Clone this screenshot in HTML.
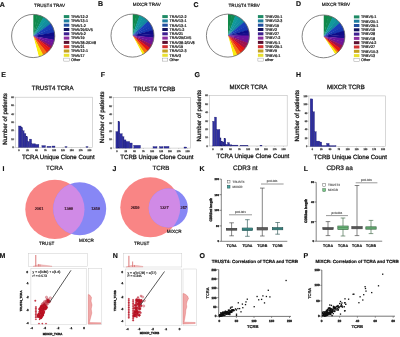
<!DOCTYPE html>
<html><head><meta charset="utf-8"><style>
html,body{margin:0;padding:0;background:#fff;width:400px;height:337px;overflow:hidden}
svg{display:block;filter:blur(0.3px);font-family:'Liberation Sans',sans-serif}
text{text-rendering:geometricPrecision}
</style></head><body>
<svg width="400" height="337" viewBox="0 0 400 337" style="font-family:'Liberation Sans',sans-serif">
<rect width="400" height="337" fill="#fff"/>
<g>
<text x="49.6" y="6.6" font-size="4.6" text-anchor="middle" font-weight="normal" fill="#1a1a1a" stroke="#1a1a1a" stroke-width="0.2">TRUST4 TRAV</text>
<path d="M33.2,36.0 L33.20,14.40 A21.6,21.6 0 0 1 37.26,14.78 Z" fill="#108848"/>
<path d="M33.2,36.0 L36.70,14.69 A21.6,21.6 0 0 1 40.65,15.72 Z" fill="#108a50"/>
<path d="M33.2,36.0 L40.11,15.54 A21.6,21.6 0 0 1 43.84,17.20 Z" fill="#108c58"/>
<path d="M33.2,36.0 L43.34,16.93 A21.6,21.6 0 0 1 46.65,19.10 Z" fill="#109a9a"/>
<path d="M33.2,36.0 L46.20,18.75 A21.6,21.6 0 0 1 49.13,21.41 Z" fill="#11919d"/>
<path d="M33.2,36.0 L48.74,21.00 A21.6,21.6 0 0 1 51.21,24.08 Z" fill="#1288a0"/>
<path d="M33.2,36.0 L50.89,23.61 A21.6,21.6 0 0 1 53.37,28.26 Z" fill="#1840b8"/>
<path d="M33.2,36.0 L53.16,27.73 A21.6,21.6 0 0 1 54.56,32.81 Z" fill="#1638b1"/>
<path d="M33.2,36.0 L54.47,32.25 A21.6,21.6 0 0 1 54.79,36.57 Z" fill="#0c0c88"/>
<path d="M33.2,36.0 L54.80,36.00 A21.6,21.6 0 0 1 54.37,40.31 Z" fill="#1a0d8c"/>
<path d="M33.2,36.0 L54.47,39.75 A21.6,21.6 0 0 1 53.43,43.56 Z" fill="#6a14a0"/>
<path d="M33.2,36.0 L53.62,43.03 A21.6,21.6 0 0 1 52.00,46.64 Z" fill="#711394"/>
<path d="M33.2,36.0 L52.27,46.14 A21.6,21.6 0 0 1 50.56,48.85 Z" fill="#9a1050"/>
<path d="M33.2,36.0 L50.89,48.39 A21.6,21.6 0 0 1 48.74,51.00 Z" fill="#e41414"/>
<path d="M33.2,36.0 L49.13,50.59 A21.6,21.6 0 0 1 46.65,52.90 Z" fill="#e72213"/>
<path d="M33.2,36.0 L47.08,52.55 A21.6,21.6 0 0 1 42.84,55.33 Z" fill="#f57010"/>
<path d="M33.2,36.0 L43.34,55.07 A21.6,21.6 0 0 1 38.79,56.86 Z" fill="#f8ec10"/>
<path d="M33.2,36.0 L38.79,56.86 A21.6,21.6 0 1 1 33.2,14.399999999999999 Z" fill="#fff"/>
<circle cx="33.2" cy="36.0" r="21.6" fill="none" stroke="#666" stroke-width="0.8"/>
<rect x="63.8" y="15.10" width="5.5" height="3" fill="#1f8a64"/>
<text x="71.0" y="17.900000000000002" font-size="3.7" text-anchor="start" font-weight="normal" fill="#1a1a1a" stroke="#1a1a1a" stroke-width="0.2">TRAV12-2</text>
<rect x="63.8" y="19.40" width="5.5" height="3" fill="#1f7d9e"/>
<text x="71.0" y="22.200000000000003" font-size="3.7" text-anchor="start" font-weight="normal" fill="#1a1a1a" stroke="#1a1a1a" stroke-width="0.2">TRAV13-1</text>
<rect x="63.8" y="23.70" width="5.5" height="3" fill="#2250a0"/>
<text x="71.0" y="26.500000000000004" font-size="3.7" text-anchor="start" font-weight="normal" fill="#1a1a1a" stroke="#1a1a1a" stroke-width="0.2">TRAV1-2</text>
<rect x="63.8" y="28.00" width="5.5" height="3" fill="#12125e"/>
<text x="71.0" y="30.8" font-size="3.7" text-anchor="start" font-weight="normal" fill="#1a1a1a" stroke="#1a1a1a" stroke-width="0.2">TRAV29/DV5</text>
<rect x="63.8" y="32.30" width="5.5" height="3" fill="#3e2090"/>
<text x="71.0" y="35.099999999999994" font-size="3.7" text-anchor="start" font-weight="normal" fill="#1a1a1a" stroke="#1a1a1a" stroke-width="0.2">TRAV9-2</text>
<rect x="63.8" y="36.60" width="5.5" height="3" fill="#8a2ea0"/>
<text x="71.0" y="39.4" font-size="3.7" text-anchor="start" font-weight="normal" fill="#1a1a1a" stroke="#1a1a1a" stroke-width="0.2">TRAV19</text>
<rect x="63.8" y="40.90" width="5.5" height="3" fill="#5e1030"/>
<text x="71.0" y="43.699999999999996" font-size="3.7" text-anchor="start" font-weight="normal" fill="#1a1a1a" stroke="#1a1a1a" stroke-width="0.2">TRAV38-2/DV8</text>
<rect x="63.8" y="45.20" width="5.5" height="3" fill="#d03030"/>
<text x="71.0" y="48.0" font-size="3.7" text-anchor="start" font-weight="normal" fill="#1a1a1a" stroke="#1a1a1a" stroke-width="0.2">TRAV21</text>
<rect x="63.8" y="49.50" width="5.5" height="3" fill="#c4a020"/>
<text x="71.0" y="52.3" font-size="3.7" text-anchor="start" font-weight="normal" fill="#1a1a1a" stroke="#1a1a1a" stroke-width="0.2">TRAV12-1</text>
<rect x="63.8" y="53.80" width="5.5" height="3" fill="#e8e030"/>
<text x="71.0" y="56.599999999999994" font-size="3.7" text-anchor="start" font-weight="normal" fill="#1a1a1a" stroke="#1a1a1a" stroke-width="0.2">TRAV17</text>
<rect x="63.8" y="58.10" width="5.5" height="3" fill="#fff" stroke="#888" stroke-width="0.4"/>
<text x="71.0" y="60.9" font-size="3.7" text-anchor="start" font-weight="normal" fill="#1a1a1a" stroke="#1a1a1a" stroke-width="0.2">Other</text>
<text x="146.8" y="6.2" font-size="4.6" text-anchor="middle" font-weight="normal" fill="#1a1a1a" stroke="#1a1a1a" stroke-width="0.2">MIXCR TRAV</text>
<path d="M132.5,35.6 L132.50,14.10 A21.5,21.5 0 0 1 136.60,14.50 Z" fill="#108848"/>
<path d="M132.5,35.6 L136.05,14.39 A21.5,21.5 0 0 1 140.03,15.46 Z" fill="#108b54"/>
<path d="M132.5,35.6 L139.50,15.27 A21.5,21.5 0 0 1 143.20,16.95 Z" fill="#109a9a"/>
<path d="M132.5,35.6 L142.70,16.68 A21.5,21.5 0 0 1 146.08,18.93 Z" fill="#11919d"/>
<path d="M132.5,35.6 L145.64,18.58 A21.5,21.5 0 0 1 148.60,21.35 Z" fill="#1288a0"/>
<path d="M132.5,35.6 L148.22,20.94 A21.5,21.5 0 0 1 150.70,24.15 Z" fill="#1840b8"/>
<path d="M132.5,35.6 L150.39,23.68 A21.5,21.5 0 0 1 152.32,27.26 Z" fill="#173bb3"/>
<path d="M132.5,35.6 L152.09,26.74 A21.5,21.5 0 0 1 153.41,30.58 Z" fill="#1636ae"/>
<path d="M132.5,35.6 L153.27,30.04 A21.5,21.5 0 0 1 153.96,34.29 Z" fill="#0c0c88"/>
<path d="M132.5,35.6 L153.92,33.73 A21.5,21.5 0 0 1 153.86,38.03 Z" fill="#1a0d8c"/>
<path d="M132.5,35.6 L153.92,37.47 A21.5,21.5 0 0 1 153.11,41.71 Z" fill="#6a14a0"/>
<path d="M132.5,35.6 L153.27,41.16 A21.5,21.5 0 0 1 151.74,45.19 Z" fill="#711394"/>
<path d="M132.5,35.6 L151.99,44.69 A21.5,21.5 0 0 1 149.78,48.39 Z" fill="#9a1050"/>
<path d="M132.5,35.6 L150.11,47.93 A21.5,21.5 0 0 1 147.30,51.20 Z" fill="#e41414"/>
<path d="M132.5,35.6 L147.70,50.80 A21.5,21.5 0 0 1 144.37,53.53 Z" fill="#f57010"/>
<path d="M132.5,35.6 L144.83,53.21 A21.5,21.5 0 0 1 142.59,54.58 Z" fill="#f8ec10"/>
<path d="M132.5,35.6 L142.59,54.58 A21.5,21.5 0 1 1 132.5,14.100000000000001 Z" fill="#fff"/>
<circle cx="132.5" cy="35.6" r="21.5" fill="none" stroke="#666" stroke-width="0.8"/>
<rect x="162.3" y="15.10" width="5.5" height="3" fill="#1f8a64"/>
<text x="169.5" y="17.900000000000002" font-size="3.7" text-anchor="start" font-weight="normal" fill="#1a1a1a" stroke="#1a1a1a" stroke-width="0.2">TRAV12-2</text>
<rect x="162.3" y="19.40" width="5.5" height="3" fill="#1f7d9e"/>
<text x="169.5" y="22.200000000000003" font-size="3.7" text-anchor="start" font-weight="normal" fill="#1a1a1a" stroke="#1a1a1a" stroke-width="0.2">TRAV13-1</text>
<rect x="162.3" y="23.70" width="5.5" height="3" fill="#2250a0"/>
<text x="169.5" y="26.500000000000004" font-size="3.7" text-anchor="start" font-weight="normal" fill="#1a1a1a" stroke="#1a1a1a" stroke-width="0.2">TRAV13-1</text>
<rect x="162.3" y="28.00" width="5.5" height="3" fill="#12125e"/>
<text x="169.5" y="30.8" font-size="3.7" text-anchor="start" font-weight="normal" fill="#1a1a1a" stroke="#1a1a1a" stroke-width="0.2">TRAV1-2</text>
<rect x="162.3" y="32.30" width="5.5" height="3" fill="#3e2090"/>
<text x="169.5" y="35.099999999999994" font-size="3.7" text-anchor="start" font-weight="normal" fill="#1a1a1a" stroke="#1a1a1a" stroke-width="0.2">TRAV21</text>
<rect x="162.3" y="36.60" width="5.5" height="3" fill="#8a2ea0"/>
<text x="169.5" y="39.4" font-size="3.7" text-anchor="start" font-weight="normal" fill="#1a1a1a" stroke="#1a1a1a" stroke-width="0.2">TRAV29/DV5</text>
<rect x="162.3" y="40.90" width="5.5" height="3" fill="#5e1030"/>
<text x="169.5" y="43.699999999999996" font-size="3.7" text-anchor="start" font-weight="normal" fill="#1a1a1a" stroke="#1a1a1a" stroke-width="0.2">TRAV38-2/DV8</text>
<rect x="162.3" y="45.20" width="5.5" height="3" fill="#d03030"/>
<text x="169.5" y="48.0" font-size="3.7" text-anchor="start" font-weight="normal" fill="#1a1a1a" stroke="#1a1a1a" stroke-width="0.2">TRAV19</text>
<rect x="162.3" y="49.50" width="5.5" height="3" fill="#c4a020"/>
<text x="169.5" y="52.3" font-size="3.7" text-anchor="start" font-weight="normal" fill="#1a1a1a" stroke="#1a1a1a" stroke-width="0.2">TRAV12-3</text>
<rect x="162.3" y="53.80" width="5.5" height="3" fill="#e8e030"/>
<text x="169.5" y="56.599999999999994" font-size="3.7" text-anchor="start" font-weight="normal" fill="#1a1a1a" stroke="#1a1a1a" stroke-width="0.2">TRAV3</text>
<rect x="162.3" y="58.10" width="5.5" height="3" fill="#fff" stroke="#888" stroke-width="0.4"/>
<text x="169.5" y="60.9" font-size="3.7" text-anchor="start" font-weight="normal" fill="#1a1a1a" stroke="#1a1a1a" stroke-width="0.2">Other</text>
<text x="244.2" y="6.5" font-size="4.6" text-anchor="middle" font-weight="normal" fill="#1a1a1a" stroke="#1a1a1a" stroke-width="0.2">TRUST4 TRBV</text>
<path d="M227.9,35.6 L227.90,14.10 A21.5,21.5 0 0 1 232.19,14.53 Z" fill="#108848"/>
<path d="M227.9,35.6 L231.63,14.43 A21.5,21.5 0 0 1 235.78,15.60 Z" fill="#108b54"/>
<path d="M227.9,35.6 L235.25,15.40 A21.5,21.5 0 0 1 239.13,17.27 Z" fill="#109a9a"/>
<path d="M227.9,35.6 L238.65,16.98 A21.5,21.5 0 0 1 242.15,19.50 Z" fill="#11919d"/>
<path d="M227.9,35.6 L241.72,19.13 A21.5,21.5 0 0 1 244.73,22.22 Z" fill="#1288a0"/>
<path d="M227.9,35.6 L244.37,21.78 A21.5,21.5 0 0 1 247.14,26.01 Z" fill="#1840b8"/>
<path d="M227.9,35.6 L246.88,25.51 A21.5,21.5 0 0 1 248.72,30.22 Z" fill="#1638b1"/>
<path d="M227.9,35.6 L248.57,29.67 A21.5,21.5 0 0 1 249.26,33.17 Z" fill="#0c0c88"/>
<path d="M227.9,35.6 L249.19,32.61 A21.5,21.5 0 0 1 249.39,36.16 Z" fill="#1a0d8c"/>
<path d="M227.9,35.6 L249.40,35.60 A21.5,21.5 0 0 1 248.97,39.89 Z" fill="#6a14a0"/>
<path d="M227.9,35.6 L249.07,39.33 A21.5,21.5 0 0 1 247.90,43.48 Z" fill="#711394"/>
<path d="M227.9,35.6 L248.10,42.95 A21.5,21.5 0 0 1 246.52,46.35 Z" fill="#9a1050"/>
<path d="M227.9,35.6 L246.79,45.86 A21.5,21.5 0 0 1 244.73,48.98 Z" fill="#a51147"/>
<path d="M227.9,35.6 L245.07,48.54 A21.5,21.5 0 0 1 242.70,51.20 Z" fill="#e41414"/>
<path d="M227.9,35.6 L243.10,50.80 A21.5,21.5 0 0 1 240.39,53.10 Z" fill="#e72213"/>
<path d="M227.9,35.6 L240.84,52.77 A21.5,21.5 0 0 1 236.82,55.16 Z" fill="#f57010"/>
<path d="M227.9,35.6 L237.32,54.92 A21.5,21.5 0 0 1 233.46,56.37 Z" fill="#f8ec10"/>
<path d="M227.9,35.6 L233.46,56.37 A21.5,21.5 0 1 1 227.9,14.100000000000001 Z" fill="#fff"/>
<circle cx="227.9" cy="35.6" r="21.5" fill="none" stroke="#666" stroke-width="0.8"/>
<rect x="257.9" y="15.10" width="5.5" height="3" fill="#1f8a64"/>
<text x="265.09999999999997" y="17.900000000000002" font-size="3.7" text-anchor="start" font-weight="normal" fill="#1a1a1a" stroke="#1a1a1a" stroke-width="0.2">TRBV20-1</text>
<rect x="257.9" y="19.40" width="5.5" height="3" fill="#1f7d9e"/>
<text x="265.09999999999997" y="22.200000000000003" font-size="3.7" text-anchor="start" font-weight="normal" fill="#1a1a1a" stroke="#1a1a1a" stroke-width="0.2">TRBV12-3</text>
<rect x="257.9" y="23.70" width="5.5" height="3" fill="#2250a0"/>
<text x="265.09999999999997" y="26.500000000000004" font-size="3.7" text-anchor="start" font-weight="normal" fill="#1a1a1a" stroke="#1a1a1a" stroke-width="0.2">TRBV19</text>
<rect x="257.9" y="28.00" width="5.5" height="3" fill="#12125e"/>
<text x="265.09999999999997" y="30.8" font-size="3.7" text-anchor="start" font-weight="normal" fill="#1a1a1a" stroke="#1a1a1a" stroke-width="0.2">TRBV2</text>
<rect x="257.9" y="32.30" width="5.5" height="3" fill="#3e2090"/>
<text x="265.09999999999997" y="35.099999999999994" font-size="3.7" text-anchor="start" font-weight="normal" fill="#1a1a1a" stroke="#1a1a1a" stroke-width="0.2">TRBV27</text>
<rect x="257.9" y="36.60" width="5.5" height="3" fill="#8a2ea0"/>
<text x="265.09999999999997" y="39.4" font-size="3.7" text-anchor="start" font-weight="normal" fill="#1a1a1a" stroke="#1a1a1a" stroke-width="0.2">TRBV7-2</text>
<rect x="257.9" y="40.90" width="5.5" height="3" fill="#5e1030"/>
<text x="265.09999999999997" y="43.699999999999996" font-size="3.7" text-anchor="start" font-weight="normal" fill="#1a1a1a" stroke="#1a1a1a" stroke-width="0.2">TRBV5-1</text>
<rect x="257.9" y="45.20" width="5.5" height="3" fill="#d03030"/>
<text x="265.09999999999997" y="48.0" font-size="3.7" text-anchor="start" font-weight="normal" fill="#1a1a1a" stroke="#1a1a1a" stroke-width="0.2">TRBV29-1</text>
<rect x="257.9" y="49.50" width="5.5" height="3" fill="#c4a020"/>
<text x="265.09999999999997" y="52.3" font-size="3.7" text-anchor="start" font-weight="normal" fill="#1a1a1a" stroke="#1a1a1a" stroke-width="0.2">TRBV9</text>
<rect x="257.9" y="53.80" width="5.5" height="3" fill="#e8e030"/>
<text x="265.09999999999997" y="56.599999999999994" font-size="3.7" text-anchor="start" font-weight="normal" fill="#1a1a1a" stroke="#1a1a1a" stroke-width="0.2">TRBV6-1</text>
<rect x="257.9" y="58.10" width="5.5" height="3" fill="#fff" stroke="#888" stroke-width="0.4"/>
<text x="265.09999999999997" y="60.9" font-size="3.7" text-anchor="start" font-weight="normal" fill="#1a1a1a" stroke="#1a1a1a" stroke-width="0.2">other</text>
<text x="335.9" y="6.0" font-size="4.6" text-anchor="middle" font-weight="normal" fill="#1a1a1a" stroke="#1a1a1a" stroke-width="0.2">MIXCR TRBV</text>
<path d="M323.5,36.4 L323.50,15.00 A21.4,21.4 0 0 1 328.68,15.64 Z" fill="#108848"/>
<path d="M323.5,36.4 L328.13,15.51 A21.4,21.4 0 0 1 333.05,17.25 Z" fill="#108b54"/>
<path d="M323.5,36.4 L332.54,17.01 A21.4,21.4 0 0 1 336.97,19.77 Z" fill="#109a9a"/>
<path d="M323.5,36.4 L336.53,19.42 A21.4,21.4 0 0 1 340.25,23.08 Z" fill="#118c9e"/>
<path d="M323.5,36.4 L339.89,22.64 A21.4,21.4 0 0 1 342.73,27.02 Z" fill="#1840b8"/>
<path d="M323.5,36.4 L342.48,26.52 A21.4,21.4 0 0 1 344.31,31.40 Z" fill="#1638b1"/>
<path d="M323.5,36.4 L344.17,30.86 A21.4,21.4 0 0 1 344.86,35.09 Z" fill="#0c0c88"/>
<path d="M323.5,36.4 L344.82,34.53 A21.4,21.4 0 0 1 344.76,38.82 Z" fill="#1a0d8c"/>
<path d="M323.5,36.4 L344.82,38.27 A21.4,21.4 0 0 1 344.02,42.48 Z" fill="#6a14a0"/>
<path d="M323.5,36.4 L344.17,41.94 A21.4,21.4 0 0 1 342.65,45.95 Z" fill="#711394"/>
<path d="M323.5,36.4 L342.89,45.44 A21.4,21.4 0 0 1 340.70,49.13 Z" fill="#9a1050"/>
<path d="M323.5,36.4 L341.03,48.67 A21.4,21.4 0 0 1 338.23,51.92 Z" fill="#e41414"/>
<path d="M323.5,36.4 L338.63,51.53 A21.4,21.4 0 0 1 336.82,53.15 Z" fill="#f57010"/>
<path d="M323.5,36.4 L337.26,52.79 A21.4,21.4 0 0 1 335.16,54.35 Z" fill="#f8ec10"/>
<path d="M323.5,36.4 L335.16,54.35 A21.4,21.4 0 1 1 323.5,15.0 Z" fill="#fff"/>
<circle cx="323.5" cy="36.4" r="21.4" fill="none" stroke="#666" stroke-width="0.8"/>
<rect x="353.9" y="15.40" width="5.5" height="3" fill="#1f8a64"/>
<text x="361.09999999999997" y="18.2" font-size="3.7" text-anchor="start" font-weight="normal" fill="#1a1a1a" stroke="#1a1a1a" stroke-width="0.2">TRBV5-1</text>
<rect x="353.9" y="19.70" width="5.5" height="3" fill="#1f7d9e"/>
<text x="361.09999999999997" y="22.5" font-size="3.7" text-anchor="start" font-weight="normal" fill="#1a1a1a" stroke="#1a1a1a" stroke-width="0.2">TRBV20-1</text>
<rect x="353.9" y="24.00" width="5.5" height="3" fill="#2250a0"/>
<text x="361.09999999999997" y="26.8" font-size="3.7" text-anchor="start" font-weight="normal" fill="#1a1a1a" stroke="#1a1a1a" stroke-width="0.2">TRBV29-1</text>
<rect x="353.9" y="28.30" width="5.5" height="3" fill="#12125e"/>
<text x="361.09999999999997" y="31.099999999999998" font-size="3.7" text-anchor="start" font-weight="normal" fill="#1a1a1a" stroke="#1a1a1a" stroke-width="0.2">TRBV19</text>
<rect x="353.9" y="32.60" width="5.5" height="3" fill="#3e2090"/>
<text x="361.09999999999997" y="35.39999999999999" font-size="3.7" text-anchor="start" font-weight="normal" fill="#1a1a1a" stroke="#1a1a1a" stroke-width="0.2">TRBV28</text>
<rect x="353.9" y="36.90" width="5.5" height="3" fill="#8a2ea0"/>
<text x="361.09999999999997" y="39.699999999999996" font-size="3.7" text-anchor="start" font-weight="normal" fill="#1a1a1a" stroke="#1a1a1a" stroke-width="0.2">TRBV18</text>
<rect x="353.9" y="41.20" width="5.5" height="3" fill="#5e1030"/>
<text x="361.09999999999997" y="43.99999999999999" font-size="3.7" text-anchor="start" font-weight="normal" fill="#1a1a1a" stroke="#1a1a1a" stroke-width="0.2">TRBV4-2</text>
<rect x="353.9" y="45.50" width="5.5" height="3" fill="#d03030"/>
<text x="361.09999999999997" y="48.3" font-size="3.7" text-anchor="start" font-weight="normal" fill="#1a1a1a" stroke="#1a1a1a" stroke-width="0.2">TRBV27</text>
<rect x="353.9" y="49.80" width="5.5" height="3" fill="#c4a020"/>
<text x="361.09999999999997" y="52.599999999999994" font-size="3.7" text-anchor="start" font-weight="normal" fill="#1a1a1a" stroke="#1a1a1a" stroke-width="0.2">TRBV10-3</text>
<rect x="353.9" y="54.10" width="5.5" height="3" fill="#e8e030"/>
<text x="361.09999999999997" y="56.89999999999999" font-size="3.7" text-anchor="start" font-weight="normal" fill="#1a1a1a" stroke="#1a1a1a" stroke-width="0.2">TRBV13</text>
<rect x="353.9" y="58.40" width="5.5" height="3" fill="#fff" stroke="#888" stroke-width="0.4"/>
<text x="361.09999999999997" y="61.199999999999996" font-size="3.7" text-anchor="start" font-weight="normal" fill="#1a1a1a" stroke="#1a1a1a" stroke-width="0.2">Other</text>
</g>
<text x="52.6" y="90.2" font-size="6.1" text-anchor="middle" font-weight="normal" fill="#1a1a1a" stroke="#1a1a1a" stroke-width="0.28">TRUST4 TCRA</text>
<rect x="15.3" y="97.2" width="77.2" height="50.2" fill="#fff" stroke="#bdbdbd" stroke-width="0.6"/>
<line x1="14.3" y1="147.40" x2="15.3" y2="147.40" stroke="#999" stroke-width="0.4"/>
<text x="13.8" y="148.20000000000002" font-size="2.3" text-anchor="end" font-weight="normal" fill="#444" stroke="#444" stroke-width="0.322">0</text>
<line x1="14.3" y1="139.03" x2="15.3" y2="139.03" stroke="#999" stroke-width="0.4"/>
<text x="13.8" y="139.83333333333334" font-size="2.3" text-anchor="end" font-weight="normal" fill="#444" stroke="#444" stroke-width="0.322">10</text>
<line x1="14.3" y1="130.67" x2="15.3" y2="130.67" stroke="#999" stroke-width="0.4"/>
<text x="13.8" y="131.4666666666667" font-size="2.3" text-anchor="end" font-weight="normal" fill="#444" stroke="#444" stroke-width="0.322">20</text>
<line x1="14.3" y1="122.30" x2="15.3" y2="122.30" stroke="#999" stroke-width="0.4"/>
<text x="13.8" y="123.1" font-size="2.3" text-anchor="end" font-weight="normal" fill="#444" stroke="#444" stroke-width="0.322">30</text>
<line x1="14.3" y1="113.93" x2="15.3" y2="113.93" stroke="#999" stroke-width="0.4"/>
<text x="13.8" y="114.73333333333333" font-size="2.3" text-anchor="end" font-weight="normal" fill="#444" stroke="#444" stroke-width="0.322">40</text>
<line x1="14.3" y1="105.57" x2="15.3" y2="105.57" stroke="#999" stroke-width="0.4"/>
<text x="13.8" y="106.36666666666666" font-size="2.3" text-anchor="end" font-weight="normal" fill="#444" stroke="#444" stroke-width="0.322">50</text>
<line x1="14.3" y1="97.20" x2="15.3" y2="97.20" stroke="#999" stroke-width="0.4"/>
<text x="13.8" y="97.99999999999999" font-size="2.3" text-anchor="end" font-weight="normal" fill="#444" stroke="#444" stroke-width="0.322">60</text>
<line x1="18.80" y1="147.4" x2="18.80" y2="148.4" stroke="#999" stroke-width="0.4"/>
<text x="18.8" y="150.9" font-size="2.3" text-anchor="middle" font-weight="normal" fill="#444" stroke="#444" stroke-width="0.322">0</text>
<line x1="27.63" y1="147.4" x2="27.63" y2="148.4" stroke="#999" stroke-width="0.4"/>
<text x="27.630000000000003" y="150.9" font-size="2.3" text-anchor="middle" font-weight="normal" fill="#444" stroke="#444" stroke-width="0.322">25</text>
<line x1="36.46" y1="147.4" x2="36.46" y2="148.4" stroke="#999" stroke-width="0.4"/>
<text x="36.46" y="150.9" font-size="2.3" text-anchor="middle" font-weight="normal" fill="#444" stroke="#444" stroke-width="0.322">50</text>
<line x1="45.29" y1="147.4" x2="45.29" y2="148.4" stroke="#999" stroke-width="0.4"/>
<text x="45.290000000000006" y="150.9" font-size="2.3" text-anchor="middle" font-weight="normal" fill="#444" stroke="#444" stroke-width="0.322">75</text>
<line x1="54.12" y1="147.4" x2="54.12" y2="148.4" stroke="#999" stroke-width="0.4"/>
<text x="54.120000000000005" y="150.9" font-size="2.3" text-anchor="middle" font-weight="normal" fill="#444" stroke="#444" stroke-width="0.322">100</text>
<line x1="62.95" y1="147.4" x2="62.95" y2="148.4" stroke="#999" stroke-width="0.4"/>
<text x="62.95" y="150.9" font-size="2.3" text-anchor="middle" font-weight="normal" fill="#444" stroke="#444" stroke-width="0.322">125</text>
<line x1="71.78" y1="147.4" x2="71.78" y2="148.4" stroke="#999" stroke-width="0.4"/>
<text x="71.78" y="150.9" font-size="2.3" text-anchor="middle" font-weight="normal" fill="#444" stroke="#444" stroke-width="0.322">150</text>
<line x1="80.61" y1="147.4" x2="80.61" y2="148.4" stroke="#999" stroke-width="0.4"/>
<text x="80.61" y="150.9" font-size="2.3" text-anchor="middle" font-weight="normal" fill="#444" stroke="#444" stroke-width="0.322">175</text>
<line x1="89.44" y1="147.4" x2="89.44" y2="148.4" stroke="#999" stroke-width="0.4"/>
<text x="89.44" y="150.9" font-size="2.3" text-anchor="middle" font-weight="normal" fill="#444" stroke="#444" stroke-width="0.322">200</text>
<rect x="18.5" y="126" width="2.6000000000000014" height="21.400000000000006" fill="#2e2ea0" stroke="#181866" stroke-width="0.3"/>
<rect x="21.1" y="127.6" width="1.5" height="19.80000000000001" fill="#2e2ea0" stroke="#181866" stroke-width="0.3"/>
<rect x="22.6" y="130.8" width="1.5" height="16.599999999999994" fill="#2e2ea0" stroke="#181866" stroke-width="0.3"/>
<rect x="24.1" y="133.75" width="1.7999999999999972" height="13.650000000000006" fill="#2e2ea0" stroke="#181866" stroke-width="0.3"/>
<rect x="25.9" y="136.7" width="1.8000000000000007" height="10.700000000000017" fill="#2e2ea0" stroke="#181866" stroke-width="0.3"/>
<rect x="27.7" y="141.5" width="1.6999999999999993" height="5.900000000000006" fill="#2e2ea0" stroke="#181866" stroke-width="0.3"/>
<rect x="29.4" y="139.1" width="2.200000000000003" height="8.300000000000011" fill="#2e2ea0" stroke="#181866" stroke-width="0.3"/>
<rect x="31.6" y="143.8" width="3.5" height="3.5999999999999943" fill="#2e2ea0" stroke="#181866" stroke-width="0.3"/>
<rect x="35.1" y="144.4" width="3.799999999999997" height="3.0" fill="#2e2ea0" stroke="#181866" stroke-width="0.3"/>
<rect x="41.9" y="145.6" width="3.6000000000000014" height="1.8000000000000114" fill="#2e2ea0" stroke="#181866" stroke-width="0.3"/>
<rect x="47" y="146.3" width="4" height="1.0999999999999943" fill="#2e2ea0" stroke="#181866" stroke-width="0.3"/>
<rect x="52" y="146" width="3" height="1.4000000000000057" fill="#2e2ea0" stroke="#181866" stroke-width="0.3"/>
<rect x="65" y="146.6" width="2" height="0.8000000000000114" fill="#2e2ea0" stroke="#181866" stroke-width="0.3"/>
<rect x="86" y="146.6" width="2" height="0.8000000000000114" fill="#2e2ea0" stroke="#181866" stroke-width="0.3"/>
<text x="58.3" y="159.1" font-size="6.1" text-anchor="middle" font-weight="normal" fill="#1a1a1a" stroke="#1a1a1a" stroke-width="0.28">TCRA Unique Clone Count</text>
<text x="6.9" y="119.0" font-size="6.1" text-anchor="middle" font-weight="normal" fill="#1a1a1a" transform="rotate(-90 6.9 119.0)" stroke="#1a1a1a" stroke-width="0.28">Number of patients</text>
<text x="154.5" y="90.6" font-size="6.1" text-anchor="middle" font-weight="normal" fill="#1a1a1a" stroke="#1a1a1a" stroke-width="0.28">TRUST4 TCRB</text>
<rect x="113.4" y="97.3" width="77.1" height="50.8" fill="#fff" stroke="#bdbdbd" stroke-width="0.6"/>
<line x1="112.4" y1="148.10" x2="113.4" y2="148.10" stroke="#999" stroke-width="0.4"/>
<text x="111.9" y="148.9" font-size="2.3" text-anchor="end" font-weight="normal" fill="#444" stroke="#444" stroke-width="0.322">0</text>
<line x1="112.4" y1="139.63" x2="113.4" y2="139.63" stroke="#999" stroke-width="0.4"/>
<text x="111.9" y="140.43333333333334" font-size="2.3" text-anchor="end" font-weight="normal" fill="#444" stroke="#444" stroke-width="0.322">10</text>
<line x1="112.4" y1="131.17" x2="113.4" y2="131.17" stroke="#999" stroke-width="0.4"/>
<text x="111.9" y="131.96666666666667" font-size="2.3" text-anchor="end" font-weight="normal" fill="#444" stroke="#444" stroke-width="0.322">20</text>
<line x1="112.4" y1="122.70" x2="113.4" y2="122.70" stroke="#999" stroke-width="0.4"/>
<text x="111.9" y="123.5" font-size="2.3" text-anchor="end" font-weight="normal" fill="#444" stroke="#444" stroke-width="0.322">30</text>
<line x1="112.4" y1="114.23" x2="113.4" y2="114.23" stroke="#999" stroke-width="0.4"/>
<text x="111.9" y="115.03333333333332" font-size="2.3" text-anchor="end" font-weight="normal" fill="#444" stroke="#444" stroke-width="0.322">40</text>
<line x1="112.4" y1="105.77" x2="113.4" y2="105.77" stroke="#999" stroke-width="0.4"/>
<text x="111.9" y="106.56666666666665" font-size="2.3" text-anchor="end" font-weight="normal" fill="#444" stroke="#444" stroke-width="0.322">50</text>
<line x1="112.4" y1="97.30" x2="113.4" y2="97.30" stroke="#999" stroke-width="0.4"/>
<text x="111.9" y="98.10000000000001" font-size="2.3" text-anchor="end" font-weight="normal" fill="#444" stroke="#444" stroke-width="0.322">60</text>
<line x1="116.90" y1="148.1" x2="116.90" y2="149.1" stroke="#999" stroke-width="0.4"/>
<text x="116.9" y="151.6" font-size="2.3" text-anchor="middle" font-weight="normal" fill="#444" stroke="#444" stroke-width="0.322">0</text>
<line x1="125.73" y1="148.1" x2="125.73" y2="149.1" stroke="#999" stroke-width="0.4"/>
<text x="125.73" y="151.6" font-size="2.3" text-anchor="middle" font-weight="normal" fill="#444" stroke="#444" stroke-width="0.322">25</text>
<line x1="134.56" y1="148.1" x2="134.56" y2="149.1" stroke="#999" stroke-width="0.4"/>
<text x="134.56" y="151.6" font-size="2.3" text-anchor="middle" font-weight="normal" fill="#444" stroke="#444" stroke-width="0.322">50</text>
<line x1="143.39" y1="148.1" x2="143.39" y2="149.1" stroke="#999" stroke-width="0.4"/>
<text x="143.39000000000001" y="151.6" font-size="2.3" text-anchor="middle" font-weight="normal" fill="#444" stroke="#444" stroke-width="0.322">75</text>
<line x1="152.22" y1="148.1" x2="152.22" y2="149.1" stroke="#999" stroke-width="0.4"/>
<text x="152.22" y="151.6" font-size="2.3" text-anchor="middle" font-weight="normal" fill="#444" stroke="#444" stroke-width="0.322">100</text>
<line x1="161.05" y1="148.1" x2="161.05" y2="149.1" stroke="#999" stroke-width="0.4"/>
<text x="161.05" y="151.6" font-size="2.3" text-anchor="middle" font-weight="normal" fill="#444" stroke="#444" stroke-width="0.322">125</text>
<line x1="169.88" y1="148.1" x2="169.88" y2="149.1" stroke="#999" stroke-width="0.4"/>
<text x="169.88" y="151.6" font-size="2.3" text-anchor="middle" font-weight="normal" fill="#444" stroke="#444" stroke-width="0.322">150</text>
<line x1="178.71" y1="148.1" x2="178.71" y2="149.1" stroke="#999" stroke-width="0.4"/>
<text x="178.71" y="151.6" font-size="2.3" text-anchor="middle" font-weight="normal" fill="#444" stroke="#444" stroke-width="0.322">175</text>
<line x1="187.54" y1="148.1" x2="187.54" y2="149.1" stroke="#999" stroke-width="0.4"/>
<text x="187.54000000000002" y="151.6" font-size="2.3" text-anchor="middle" font-weight="normal" fill="#444" stroke="#444" stroke-width="0.322">200</text>
<rect x="115.9" y="131.6" width="2.0999999999999943" height="16.5" fill="#2e2ea0" stroke="#181866" stroke-width="0.3"/>
<rect x="118" y="121.7" width="1.7999999999999972" height="26.39999999999999" fill="#2e2ea0" stroke="#181866" stroke-width="0.3"/>
<rect x="119.8" y="133.7" width="2.4000000000000057" height="14.400000000000006" fill="#2e2ea0" stroke="#181866" stroke-width="0.3"/>
<rect x="122.2" y="136.8" width="1.7999999999999972" height="11.299999999999983" fill="#2e2ea0" stroke="#181866" stroke-width="0.3"/>
<rect x="124" y="139.9" width="2" height="8.199999999999989" fill="#2e2ea0" stroke="#181866" stroke-width="0.3"/>
<rect x="126" y="141.5" width="3.6999999999999886" height="6.599999999999994" fill="#2e2ea0" stroke="#181866" stroke-width="0.3"/>
<rect x="129.7" y="143" width="2.5" height="5.099999999999994" fill="#2e2ea0" stroke="#181866" stroke-width="0.3"/>
<rect x="133.8" y="145.3" width="6.699999999999989" height="2.799999999999983" fill="#2e2ea0" stroke="#181866" stroke-width="0.3"/>
<rect x="153" y="146.6" width="4" height="1.5" fill="#2e2ea0" stroke="#181866" stroke-width="0.3"/>
<rect x="159.5" y="146.6" width="3.5" height="1.5" fill="#2e2ea0" stroke="#181866" stroke-width="0.3"/>
<rect x="164" y="146.4" width="5" height="1.6999999999999886" fill="#2e2ea0" stroke="#181866" stroke-width="0.3"/>
<rect x="184" y="147" width="2.6999999999999886" height="1.0999999999999943" fill="#2e2ea0" stroke="#181866" stroke-width="0.3"/>
<text x="156.9" y="159.3" font-size="6.1" text-anchor="middle" font-weight="normal" fill="#1a1a1a" stroke="#1a1a1a" stroke-width="0.28">TCRB Unique Clone Count</text>
<text x="104.3" y="117.2" font-size="6.1" text-anchor="middle" font-weight="normal" fill="#1a1a1a" transform="rotate(-90 104.3 117.2)" stroke="#1a1a1a" stroke-width="0.28">Number of patients</text>
<text x="248.5" y="89.4" font-size="6.1" text-anchor="middle" font-weight="normal" fill="#1a1a1a" stroke="#1a1a1a" stroke-width="0.28">MIXCR TCRA</text>
<rect x="209.4" y="95.6" width="77.79999999999998" height="50.400000000000006" fill="#fff" stroke="#bdbdbd" stroke-width="0.6"/>
<line x1="208.4" y1="146.00" x2="209.4" y2="146.00" stroke="#999" stroke-width="0.4"/>
<text x="207.9" y="146.8" font-size="2.3" text-anchor="end" font-weight="normal" fill="#444" stroke="#444" stroke-width="0.322">0</text>
<line x1="208.4" y1="137.60" x2="209.4" y2="137.60" stroke="#999" stroke-width="0.4"/>
<text x="207.9" y="138.4" font-size="2.3" text-anchor="end" font-weight="normal" fill="#444" stroke="#444" stroke-width="0.322">10</text>
<line x1="208.4" y1="129.20" x2="209.4" y2="129.20" stroke="#999" stroke-width="0.4"/>
<text x="207.9" y="130.0" font-size="2.3" text-anchor="end" font-weight="normal" fill="#444" stroke="#444" stroke-width="0.322">20</text>
<line x1="208.4" y1="120.80" x2="209.4" y2="120.80" stroke="#999" stroke-width="0.4"/>
<text x="207.9" y="121.6" font-size="2.3" text-anchor="end" font-weight="normal" fill="#444" stroke="#444" stroke-width="0.322">30</text>
<line x1="208.4" y1="112.40" x2="209.4" y2="112.40" stroke="#999" stroke-width="0.4"/>
<text x="207.9" y="113.2" font-size="2.3" text-anchor="end" font-weight="normal" fill="#444" stroke="#444" stroke-width="0.322">40</text>
<line x1="208.4" y1="104.00" x2="209.4" y2="104.00" stroke="#999" stroke-width="0.4"/>
<text x="207.9" y="104.8" font-size="2.3" text-anchor="end" font-weight="normal" fill="#444" stroke="#444" stroke-width="0.322">50</text>
<line x1="208.4" y1="95.60" x2="209.4" y2="95.60" stroke="#999" stroke-width="0.4"/>
<text x="207.9" y="96.39999999999999" font-size="2.3" text-anchor="end" font-weight="normal" fill="#444" stroke="#444" stroke-width="0.322">60</text>
<line x1="212.90" y1="146.0" x2="212.90" y2="147.0" stroke="#999" stroke-width="0.4"/>
<text x="212.9" y="149.5" font-size="2.3" text-anchor="middle" font-weight="normal" fill="#444" stroke="#444" stroke-width="0.322">0</text>
<line x1="221.73" y1="146.0" x2="221.73" y2="147.0" stroke="#999" stroke-width="0.4"/>
<text x="221.73000000000002" y="149.5" font-size="2.3" text-anchor="middle" font-weight="normal" fill="#444" stroke="#444" stroke-width="0.322">25</text>
<line x1="230.56" y1="146.0" x2="230.56" y2="147.0" stroke="#999" stroke-width="0.4"/>
<text x="230.56" y="149.5" font-size="2.3" text-anchor="middle" font-weight="normal" fill="#444" stroke="#444" stroke-width="0.322">50</text>
<line x1="239.39" y1="146.0" x2="239.39" y2="147.0" stroke="#999" stroke-width="0.4"/>
<text x="239.39000000000001" y="149.5" font-size="2.3" text-anchor="middle" font-weight="normal" fill="#444" stroke="#444" stroke-width="0.322">75</text>
<line x1="248.22" y1="146.0" x2="248.22" y2="147.0" stroke="#999" stroke-width="0.4"/>
<text x="248.22" y="149.5" font-size="2.3" text-anchor="middle" font-weight="normal" fill="#444" stroke="#444" stroke-width="0.322">100</text>
<line x1="257.05" y1="146.0" x2="257.05" y2="147.0" stroke="#999" stroke-width="0.4"/>
<text x="257.05" y="149.5" font-size="2.3" text-anchor="middle" font-weight="normal" fill="#444" stroke="#444" stroke-width="0.322">125</text>
<line x1="265.88" y1="146.0" x2="265.88" y2="147.0" stroke="#999" stroke-width="0.4"/>
<text x="265.88" y="149.5" font-size="2.3" text-anchor="middle" font-weight="normal" fill="#444" stroke="#444" stroke-width="0.322">150</text>
<line x1="274.71" y1="146.0" x2="274.71" y2="147.0" stroke="#999" stroke-width="0.4"/>
<text x="274.71000000000004" y="149.5" font-size="2.3" text-anchor="middle" font-weight="normal" fill="#444" stroke="#444" stroke-width="0.322">175</text>
<line x1="283.54" y1="146.0" x2="283.54" y2="147.0" stroke="#999" stroke-width="0.4"/>
<text x="283.54" y="149.5" font-size="2.3" text-anchor="middle" font-weight="normal" fill="#444" stroke="#444" stroke-width="0.322">200</text>
<rect x="212.7" y="121.3" width="1.8000000000000114" height="24.700000000000003" fill="#2e2ea0" stroke="#181866" stroke-width="0.3"/>
<rect x="214.5" y="117.1" width="2.0" height="28.900000000000006" fill="#2e2ea0" stroke="#181866" stroke-width="0.3"/>
<rect x="216.5" y="129.5" width="3.4000000000000057" height="16.5" fill="#2e2ea0" stroke="#181866" stroke-width="0.3"/>
<rect x="219.9" y="137.9" width="1.0999999999999943" height="8.099999999999994" fill="#2e2ea0" stroke="#181866" stroke-width="0.3"/>
<rect x="221" y="141.4" width="1.8000000000000114" height="4.599999999999994" fill="#2e2ea0" stroke="#181866" stroke-width="0.3"/>
<rect x="222.8" y="142" width="1.1999999999999886" height="4.0" fill="#2e2ea0" stroke="#181866" stroke-width="0.3"/>
<rect x="224" y="138.5" width="1.8000000000000114" height="7.5" fill="#2e2ea0" stroke="#181866" stroke-width="0.3"/>
<rect x="225.8" y="144.4" width="1.799999999999983" height="1.5999999999999943" fill="#2e2ea0" stroke="#181866" stroke-width="0.3"/>
<rect x="227.6" y="142.6" width="1.8000000000000114" height="3.4000000000000057" fill="#2e2ea0" stroke="#181866" stroke-width="0.3"/>
<rect x="229.4" y="144.8" width="2.4000000000000057" height="1.1999999999999886" fill="#2e2ea0" stroke="#181866" stroke-width="0.3"/>
<rect x="231.8" y="145.1" width="6.199999999999989" height="0.9000000000000057" fill="#2e2ea0" stroke="#181866" stroke-width="0.3"/>
<rect x="240" y="145.3" width="8" height="0.6999999999999886" fill="#2e2ea0" stroke="#181866" stroke-width="0.3"/>
<rect x="260" y="145.2" width="2" height="0.8000000000000114" fill="#2e2ea0" stroke="#181866" stroke-width="0.3"/>
<text x="252.9" y="158.1" font-size="6.1" text-anchor="middle" font-weight="normal" fill="#1a1a1a" stroke="#1a1a1a" stroke-width="0.28">TCRA Unique Clone Count</text>
<text x="200.7" y="115.8" font-size="6.1" text-anchor="middle" font-weight="normal" fill="#1a1a1a" transform="rotate(-90 200.7 115.8)" stroke="#1a1a1a" stroke-width="0.28">Number of patients</text>
<text x="345.9" y="88.9" font-size="6.1" text-anchor="middle" font-weight="normal" fill="#1a1a1a" stroke="#1a1a1a" stroke-width="0.28">MIXCR TCRB</text>
<rect x="308.9" y="95.9" width="76.5" height="50.599999999999994" fill="#fff" stroke="#bdbdbd" stroke-width="0.6"/>
<line x1="307.9" y1="146.50" x2="308.9" y2="146.50" stroke="#999" stroke-width="0.4"/>
<text x="307.4" y="147.3" font-size="2.3" text-anchor="end" font-weight="normal" fill="#444" stroke="#444" stroke-width="0.322">0</text>
<line x1="307.9" y1="138.07" x2="308.9" y2="138.07" stroke="#999" stroke-width="0.4"/>
<text x="307.4" y="138.86666666666667" font-size="2.3" text-anchor="end" font-weight="normal" fill="#444" stroke="#444" stroke-width="0.322">20</text>
<line x1="307.9" y1="129.63" x2="308.9" y2="129.63" stroke="#999" stroke-width="0.4"/>
<text x="307.4" y="130.43333333333334" font-size="2.3" text-anchor="end" font-weight="normal" fill="#444" stroke="#444" stroke-width="0.322">40</text>
<line x1="307.9" y1="121.20" x2="308.9" y2="121.20" stroke="#999" stroke-width="0.4"/>
<text x="307.4" y="122.0" font-size="2.3" text-anchor="end" font-weight="normal" fill="#444" stroke="#444" stroke-width="0.322">60</text>
<line x1="307.9" y1="112.77" x2="308.9" y2="112.77" stroke="#999" stroke-width="0.4"/>
<text x="307.4" y="113.56666666666668" font-size="2.3" text-anchor="end" font-weight="normal" fill="#444" stroke="#444" stroke-width="0.322">80</text>
<line x1="307.9" y1="104.33" x2="308.9" y2="104.33" stroke="#999" stroke-width="0.4"/>
<text x="307.4" y="105.13333333333334" font-size="2.3" text-anchor="end" font-weight="normal" fill="#444" stroke="#444" stroke-width="0.322">100</text>
<line x1="307.9" y1="95.90" x2="308.9" y2="95.90" stroke="#999" stroke-width="0.4"/>
<text x="307.4" y="96.7" font-size="2.3" text-anchor="end" font-weight="normal" fill="#444" stroke="#444" stroke-width="0.322">120</text>
<line x1="312.40" y1="146.5" x2="312.40" y2="147.5" stroke="#999" stroke-width="0.4"/>
<text x="312.4" y="150.0" font-size="2.3" text-anchor="middle" font-weight="normal" fill="#444" stroke="#444" stroke-width="0.322">0</text>
<line x1="321.23" y1="146.5" x2="321.23" y2="147.5" stroke="#999" stroke-width="0.4"/>
<text x="321.22999999999996" y="150.0" font-size="2.3" text-anchor="middle" font-weight="normal" fill="#444" stroke="#444" stroke-width="0.322">25</text>
<line x1="330.06" y1="146.5" x2="330.06" y2="147.5" stroke="#999" stroke-width="0.4"/>
<text x="330.06" y="150.0" font-size="2.3" text-anchor="middle" font-weight="normal" fill="#444" stroke="#444" stroke-width="0.322">50</text>
<line x1="338.89" y1="146.5" x2="338.89" y2="147.5" stroke="#999" stroke-width="0.4"/>
<text x="338.89" y="150.0" font-size="2.3" text-anchor="middle" font-weight="normal" fill="#444" stroke="#444" stroke-width="0.322">75</text>
<line x1="347.72" y1="146.5" x2="347.72" y2="147.5" stroke="#999" stroke-width="0.4"/>
<text x="347.71999999999997" y="150.0" font-size="2.3" text-anchor="middle" font-weight="normal" fill="#444" stroke="#444" stroke-width="0.322">100</text>
<line x1="356.55" y1="146.5" x2="356.55" y2="147.5" stroke="#999" stroke-width="0.4"/>
<text x="356.54999999999995" y="150.0" font-size="2.3" text-anchor="middle" font-weight="normal" fill="#444" stroke="#444" stroke-width="0.322">125</text>
<line x1="365.38" y1="146.5" x2="365.38" y2="147.5" stroke="#999" stroke-width="0.4"/>
<text x="365.38" y="150.0" font-size="2.3" text-anchor="middle" font-weight="normal" fill="#444" stroke="#444" stroke-width="0.322">150</text>
<line x1="374.21" y1="146.5" x2="374.21" y2="147.5" stroke="#999" stroke-width="0.4"/>
<text x="374.21" y="150.0" font-size="2.3" text-anchor="middle" font-weight="normal" fill="#444" stroke="#444" stroke-width="0.322">175</text>
<line x1="383.04" y1="146.5" x2="383.04" y2="147.5" stroke="#999" stroke-width="0.4"/>
<text x="383.03999999999996" y="150.0" font-size="2.3" text-anchor="middle" font-weight="normal" fill="#444" stroke="#444" stroke-width="0.322">200</text>
<rect x="310.2" y="98.9" width="2.6000000000000227" height="47.599999999999994" fill="#2e2ea0" stroke="#181866" stroke-width="0.3"/>
<rect x="312.8" y="111.8" width="1.6999999999999886" height="34.7" fill="#2e2ea0" stroke="#181866" stroke-width="0.3"/>
<rect x="314.5" y="131.7" width="1.6999999999999886" height="14.800000000000011" fill="#2e2ea0" stroke="#181866" stroke-width="0.3"/>
<rect x="316.2" y="141.1" width="3.5" height="5.400000000000006" fill="#2e2ea0" stroke="#181866" stroke-width="0.3"/>
<rect x="319.7" y="142" width="2.0" height="4.5" fill="#2e2ea0" stroke="#181866" stroke-width="0.3"/>
<rect x="321.7" y="145.5" width="4.900000000000034" height="1.0" fill="#2e2ea0" stroke="#181866" stroke-width="0.3"/>
<rect x="326.6" y="143.4" width="2.5" height="3.0999999999999943" fill="#2e2ea0" stroke="#181866" stroke-width="0.3"/>
<rect x="329.1" y="145.6" width="6.899999999999977" height="0.9000000000000057" fill="#2e2ea0" stroke="#181866" stroke-width="0.3"/>
<text x="350.4" y="158.8" font-size="6.1" text-anchor="middle" font-weight="normal" fill="#1a1a1a" stroke="#1a1a1a" stroke-width="0.28">TCRB Unique Clone Count</text>
<text x="298.7" y="115.8" font-size="6.1" text-anchor="middle" font-weight="normal" fill="#1a1a1a" transform="rotate(-90 298.7 115.8)" stroke="#1a1a1a" stroke-width="0.28">Number of patients</text>
<text x="54.4" y="170.0" font-size="6.2" text-anchor="middle" font-weight="normal" fill="#1a1a1a" stroke="#1a1a1a" stroke-width="0.22">TCRA</text>
<clipPath id="c1"><circle cx="54.9" cy="209.3" r="29.6"/></clipPath>
<circle cx="54.9" cy="209.3" r="29.6" fill="#f98585"/>
<circle cx="79.7" cy="208.8" r="26.5" fill="#8787f5"/>
<circle cx="79.7" cy="208.8" r="26.5" fill="#d08ae6" clip-path="url(#c1)"/>
<text x="39" y="209.7" font-size="3.9" text-anchor="middle" font-weight="normal" fill="#2a0a14" stroke="#2a0a14" stroke-width="0.15">2061</text>
<text x="68.7" y="209.7" font-size="3.9" text-anchor="middle" font-weight="normal" fill="#2a0a14" stroke="#2a0a14" stroke-width="0.15">1389</text>
<text x="95.5" y="209.7" font-size="3.9" text-anchor="middle" font-weight="normal" fill="#2a0a14" stroke="#2a0a14" stroke-width="0.15">1359</text>
<text x="46.6" y="244.9" font-size="4.6" text-anchor="middle" font-weight="normal" fill="#222" stroke="#222" stroke-width="0.2">TRUST</text>
<text x="86.5" y="241.9" font-size="4.6" text-anchor="middle" font-weight="normal" fill="#222" stroke="#222" stroke-width="0.2">MIXCR</text>
<text x="160.9" y="170.2" font-size="6.2" text-anchor="middle" font-weight="normal" fill="#1a1a1a" stroke="#1a1a1a" stroke-width="0.22">TCRB</text>
<clipPath id="c2"><circle cx="150.3" cy="207.3" r="30"/></clipPath>
<circle cx="150.3" cy="207.3" r="30" fill="#f98585"/>
<circle cx="168.3" cy="208" r="19.6" fill="#8787f5"/>
<circle cx="168.3" cy="208" r="19.6" fill="#d08ae6" clip-path="url(#c2)"/>
<text x="135" y="209.2" font-size="3.9" text-anchor="middle" font-weight="normal" fill="#2a0a14" stroke="#2a0a14" stroke-width="0.15">2659</text>
<text x="164.3" y="209.2" font-size="3.9" text-anchor="middle" font-weight="normal" fill="#2a0a14" stroke="#2a0a14" stroke-width="0.15">1327</text>
<text x="183.8" y="209.2" font-size="3.9" text-anchor="middle" font-weight="normal" fill="#2a0a14" stroke="#2a0a14" stroke-width="0.15">257</text>
<text x="141.7" y="244.5" font-size="4.6" text-anchor="middle" font-weight="normal" fill="#222" stroke="#222" stroke-width="0.2">TRUST</text>
<text x="174.2" y="233.3" font-size="4.6" text-anchor="middle" font-weight="normal" fill="#222" stroke="#222" stroke-width="0.2">MIXCR</text>
<text x="245.3" y="170.0" font-size="6.4" text-anchor="middle" font-weight="normal" fill="#1a1a1a" stroke="#1a1a1a" stroke-width="0.25">CDR3 nt</text>
<line x1="221.3" y1="179" x2="221.3" y2="241.3" stroke="#333" stroke-width="0.6"/>
<line x1="221.3" y1="241.3" x2="287.3" y2="241.3" stroke="#333" stroke-width="0.6"/>
<line x1="219.5" y1="179.1" x2="221.3" y2="179.1" stroke="#333" stroke-width="0.6"/>
<text x="219.10000000000002" y="180.0" font-size="2.7" text-anchor="end" font-weight="bold" fill="#333" stroke="#333" stroke-width="0.378">200</text>
<line x1="219.5" y1="194.7" x2="221.3" y2="194.7" stroke="#333" stroke-width="0.6"/>
<text x="219.10000000000002" y="195.6" font-size="2.7" text-anchor="end" font-weight="bold" fill="#333" stroke="#333" stroke-width="0.378">150</text>
<line x1="219.5" y1="210.3" x2="221.3" y2="210.3" stroke="#333" stroke-width="0.6"/>
<text x="219.10000000000002" y="211.20000000000002" font-size="2.7" text-anchor="end" font-weight="bold" fill="#333" stroke="#333" stroke-width="0.378">100</text>
<line x1="219.5" y1="225.9" x2="221.3" y2="225.9" stroke="#333" stroke-width="0.6"/>
<text x="219.10000000000002" y="226.8" font-size="2.7" text-anchor="end" font-weight="bold" fill="#333" stroke="#333" stroke-width="0.378">50</text>
<line x1="219.5" y1="241.3" x2="221.3" y2="241.3" stroke="#333" stroke-width="0.6"/>
<text x="219.10000000000002" y="242.20000000000002" font-size="2.7" text-anchor="end" font-weight="bold" fill="#333" stroke="#333" stroke-width="0.378">0</text>
<text x="212.3" y="209.8" font-size="3.4" text-anchor="middle" font-weight="bold" fill="#333" transform="rotate(-90 212.3 209.8)" stroke="#333" stroke-width="0.476">CDR3nt length</text>
<rect x="227.3" y="180.29999999999998" width="2.7" height="2.7" fill="#fff" stroke="#555" stroke-width="0.45"/>
<text x="232.5" y="182.79999999999998" font-size="3.1" text-anchor="start" font-weight="normal" fill="#555" stroke="#555" stroke-width="0.12">TRUST4</text>
<rect x="227.3" y="185.39999999999998" width="2.7" height="2.7" fill="#4aa8a4" stroke="#1f4a48" stroke-width="0.45"/>
<text x="232.5" y="187.89999999999998" font-size="3.1" text-anchor="start" font-weight="normal" fill="#555" stroke="#555" stroke-width="0.12">MIXCR</text>
<line x1="231.6" y1="222.8" x2="231.6" y2="235.8" stroke="#333333" stroke-width="0.6"/>
<line x1="229.29999999999998" y1="222.8" x2="233.9" y2="222.8" stroke="#333333" stroke-width="0.6"/>
<line x1="229.29999999999998" y1="235.8" x2="233.9" y2="235.8" stroke="#333333" stroke-width="0.6"/>
<rect x="226.4" y="228.3" width="10.4" height="1.8999999999999773" fill="#7a7a7a" stroke="#333333" stroke-width="0.6"/>
<line x1="226.6" y1="229.25" x2="236.6" y2="229.25" stroke="#333333" stroke-width="0.6"/>
<line x1="247.4" y1="219.7" x2="247.4" y2="236.3" stroke="#1f4a48" stroke-width="0.6"/>
<line x1="245.1" y1="219.7" x2="249.70000000000002" y2="219.7" stroke="#1f4a48" stroke-width="0.6"/>
<line x1="245.1" y1="236.3" x2="249.70000000000002" y2="236.3" stroke="#1f4a48" stroke-width="0.6"/>
<rect x="242.20000000000002" y="228" width="10.4" height="2.5999999999999943" fill="#4aa8a4" stroke="#1f4a48" stroke-width="0.6"/>
<line x1="242.4" y1="229.3" x2="252.4" y2="229.3" stroke="#1f4a48" stroke-width="0.6"/>
<line x1="262.3" y1="188.1" x2="262.3" y2="236" stroke="#333333" stroke-width="0.6"/>
<line x1="260.0" y1="188.1" x2="264.6" y2="188.1" stroke="#333333" stroke-width="0.6"/>
<line x1="260.0" y1="236" x2="264.6" y2="236" stroke="#333333" stroke-width="0.6"/>
<rect x="257.1" y="227.6" width="10.4" height="2.4000000000000057" fill="#7a7a7a" stroke="#333333" stroke-width="0.6"/>
<line x1="257.3" y1="228.8" x2="267.3" y2="228.8" stroke="#333333" stroke-width="0.6"/>
<line x1="277.6" y1="222.5" x2="277.6" y2="234.2" stroke="#1f4a48" stroke-width="0.6"/>
<line x1="275.3" y1="222.5" x2="279.90000000000003" y2="222.5" stroke="#1f4a48" stroke-width="0.6"/>
<line x1="275.3" y1="234.2" x2="279.90000000000003" y2="234.2" stroke="#1f4a48" stroke-width="0.6"/>
<rect x="272.40000000000003" y="227.6" width="10.4" height="2.200000000000017" fill="#4aa8a4" stroke="#1f4a48" stroke-width="0.6"/>
<line x1="272.6" y1="228.7" x2="282.6" y2="228.7" stroke="#1f4a48" stroke-width="0.6"/>
<line x1="229" y1="214.8" x2="252" y2="214.8" stroke="#444" stroke-width="0.55"/>
<text x="240.5" y="212.9" font-size="3.0" text-anchor="middle" font-weight="normal" fill="#444" stroke="#444" stroke-width="0.12">p&lt;0.001</text>
<line x1="261" y1="184" x2="283.6" y2="184" stroke="#444" stroke-width="0.55"/>
<text x="272.3" y="182.1" font-size="3.0" text-anchor="middle" font-weight="normal" fill="#444" stroke="#444" stroke-width="0.12">p&lt;0.001</text>
<text x="231.6" y="246.9" font-size="3.6" text-anchor="middle" font-weight="bold" fill="#1a1a1a" stroke="#1a1a1a" stroke-width="0.2">TCRA</text>
<text x="247.4" y="246.9" font-size="3.6" text-anchor="middle" font-weight="bold" fill="#1a1a1a" stroke="#1a1a1a" stroke-width="0.2">TCRA</text>
<text x="262.3" y="246.9" font-size="3.6" text-anchor="middle" font-weight="bold" fill="#1a1a1a" stroke="#1a1a1a" stroke-width="0.2">TCRB</text>
<text x="277.6" y="246.9" font-size="3.6" text-anchor="middle" font-weight="bold" fill="#1a1a1a" stroke="#1a1a1a" stroke-width="0.2">TCRB</text>
<text x="339.6" y="170.0" font-size="6.4" text-anchor="middle" font-weight="normal" fill="#1a1a1a" stroke="#1a1a1a" stroke-width="0.25">CDR3 aa</text>
<line x1="316.2" y1="182.3" x2="316.2" y2="241.2" stroke="#333" stroke-width="0.6"/>
<line x1="316.2" y1="241.2" x2="382.2" y2="241.2" stroke="#333" stroke-width="0.6"/>
<line x1="314.4" y1="182.3" x2="316.2" y2="182.3" stroke="#333" stroke-width="0.6"/>
<text x="314.0" y="183.20000000000002" font-size="2.7" text-anchor="end" font-weight="bold" fill="#333" stroke="#333" stroke-width="0.378">60</text>
<line x1="314.4" y1="202" x2="316.2" y2="202" stroke="#333" stroke-width="0.6"/>
<text x="314.0" y="202.9" font-size="2.7" text-anchor="end" font-weight="bold" fill="#333" stroke="#333" stroke-width="0.378">40</text>
<line x1="314.4" y1="221.6" x2="316.2" y2="221.6" stroke="#333" stroke-width="0.6"/>
<text x="314.0" y="222.5" font-size="2.7" text-anchor="end" font-weight="bold" fill="#333" stroke="#333" stroke-width="0.378">20</text>
<line x1="314.4" y1="241.2" x2="316.2" y2="241.2" stroke="#333" stroke-width="0.6"/>
<text x="314.0" y="242.1" font-size="2.7" text-anchor="end" font-weight="bold" fill="#333" stroke="#333" stroke-width="0.378">0</text>
<text x="307.3" y="211" font-size="3.4" text-anchor="middle" font-weight="bold" fill="#333" transform="rotate(-90 307.3 211)" stroke="#333" stroke-width="0.476">CDR3aa length</text>
<rect x="322.8" y="183.6" width="2.7" height="2.7" fill="#fff" stroke="#555" stroke-width="0.45"/>
<text x="328.0" y="186.1" font-size="3.1" text-anchor="start" font-weight="normal" fill="#555" stroke="#555" stroke-width="0.12">TRUST4</text>
<rect x="322.8" y="188.7" width="2.7" height="2.7" fill="#78c888" stroke="#2f5a38" stroke-width="0.45"/>
<text x="328.0" y="191.2" font-size="3.1" text-anchor="start" font-weight="normal" fill="#555" stroke="#555" stroke-width="0.12">MIXCR</text>
<line x1="328" y1="221.6" x2="328" y2="235.6" stroke="#333333" stroke-width="0.6"/>
<line x1="325.7" y1="221.6" x2="330.3" y2="221.6" stroke="#333333" stroke-width="0.6"/>
<line x1="325.7" y1="235.6" x2="330.3" y2="235.6" stroke="#333333" stroke-width="0.6"/>
<rect x="322.8" y="227.6" width="10.4" height="2.0" fill="#7a7a7a" stroke="#333333" stroke-width="0.6"/>
<line x1="323" y1="228.6" x2="333" y2="228.6" stroke="#333333" stroke-width="0.6"/>
<line x1="343" y1="218" x2="343" y2="236" stroke="#2f5a38" stroke-width="0.6"/>
<line x1="340.7" y1="218" x2="345.3" y2="218" stroke="#2f5a38" stroke-width="0.6"/>
<line x1="340.7" y1="236" x2="345.3" y2="236" stroke="#2f5a38" stroke-width="0.6"/>
<rect x="337.8" y="226" width="10.4" height="3.5999999999999943" fill="#78c888" stroke="#2f5a38" stroke-width="0.6"/>
<line x1="338" y1="227.8" x2="348" y2="227.8" stroke="#2f5a38" stroke-width="0.6"/>
<line x1="357" y1="185.5" x2="357" y2="235.6" stroke="#333333" stroke-width="0.6"/>
<line x1="354.7" y1="185.5" x2="359.3" y2="185.5" stroke="#333333" stroke-width="0.6"/>
<line x1="354.7" y1="235.6" x2="359.3" y2="235.6" stroke="#333333" stroke-width="0.6"/>
<rect x="351.8" y="226.6" width="10.4" height="2.200000000000017" fill="#7a7a7a" stroke="#333333" stroke-width="0.6"/>
<line x1="352" y1="227.7" x2="362" y2="227.7" stroke="#333333" stroke-width="0.6"/>
<line x1="371" y1="220.4" x2="371" y2="233.6" stroke="#2f5a38" stroke-width="0.6"/>
<line x1="368.7" y1="220.4" x2="373.3" y2="220.4" stroke="#2f5a38" stroke-width="0.6"/>
<line x1="368.7" y1="233.6" x2="373.3" y2="233.6" stroke="#2f5a38" stroke-width="0.6"/>
<rect x="365.8" y="226.8" width="10.4" height="2.3999999999999773" fill="#78c888" stroke="#2f5a38" stroke-width="0.6"/>
<line x1="366" y1="228.0" x2="376" y2="228.0" stroke="#2f5a38" stroke-width="0.6"/>
<line x1="326" y1="215.6" x2="348" y2="215.6" stroke="#444" stroke-width="0.55"/>
<text x="337.0" y="213.7" font-size="3.0" text-anchor="middle" font-weight="normal" fill="#444" stroke="#444" stroke-width="0.12">p&lt;0.001</text>
<line x1="355.7" y1="182.8" x2="377.4" y2="182.8" stroke="#444" stroke-width="0.55"/>
<text x="366.54999999999995" y="180.9" font-size="3.0" text-anchor="middle" font-weight="normal" fill="#444" stroke="#444" stroke-width="0.12">p&lt;0.001</text>
<text x="328" y="246.79999999999998" font-size="3.6" text-anchor="middle" font-weight="bold" fill="#1a1a1a" stroke="#1a1a1a" stroke-width="0.2">TCRA</text>
<text x="343" y="246.79999999999998" font-size="3.6" text-anchor="middle" font-weight="bold" fill="#1a1a1a" stroke="#1a1a1a" stroke-width="0.2">TCRA</text>
<text x="357" y="246.79999999999998" font-size="3.6" text-anchor="middle" font-weight="bold" fill="#1a1a1a" stroke="#1a1a1a" stroke-width="0.2">TCRA</text>
<text x="371" y="246.79999999999998" font-size="3.6" text-anchor="middle" font-weight="bold" fill="#1a1a1a" stroke="#1a1a1a" stroke-width="0.2">TCRB</text>
<rect x="28.4" y="253.6" width="59.1" height="12.799999999999983" fill="#fff" stroke="#c8c8c8" stroke-width="0.45"/>
<path d="M33,266.4 L35,265.8 L37,265.2 L38.5,264.4 L41,264.8 L45,265.3 L49,265.8 L52,266.2 L52,266.4 Z" fill="#f3c0c0" stroke="#e08a8a" stroke-width="0.35"/>
<rect x="35.349999999999994" y="254.99999999999997" width="0.9" height="11.4" fill="#d86a6a"/>
<rect x="38.25" y="264.2" width="0.7" height="2.2" fill="#d86a6a"/>
<rect x="39.65" y="264.59999999999997" width="0.7" height="1.8" fill="#d86a6a"/>
<rect x="30.9" y="268.5" width="55.300000000000004" height="56.30000000000001" fill="#fff" stroke="#c8c8c8" stroke-width="0.45"/>
<text x="27.4" y="273.09999999999997" font-size="2.8" text-anchor="middle" font-weight="normal" fill="#222" stroke="#222" stroke-width="0.392">0</text>
<text x="27.4" y="284.4" font-size="2.8" text-anchor="middle" font-weight="normal" fill="#222" stroke="#222" stroke-width="0.392">-1</text>
<text x="27.4" y="298.29999999999995" font-size="2.8" text-anchor="middle" font-weight="normal" fill="#222" stroke="#222" stroke-width="0.392">-2</text>
<text x="27.4" y="311.4" font-size="2.8" text-anchor="middle" font-weight="normal" fill="#222" stroke="#222" stroke-width="0.392">-3</text>
<text x="27.4" y="323.9" font-size="2.8" text-anchor="middle" font-weight="normal" fill="#222" stroke="#222" stroke-width="0.392">-4</text>
<text x="31.6" y="328.7" font-size="2.8" text-anchor="middle" font-weight="normal" fill="#222" stroke="#222" stroke-width="0.392">-4</text>
<text x="44.8" y="328.7" font-size="2.8" text-anchor="middle" font-weight="normal" fill="#222" stroke="#222" stroke-width="0.392">-3</text>
<text x="58" y="328.7" font-size="2.8" text-anchor="middle" font-weight="normal" fill="#222" stroke="#222" stroke-width="0.392">-2</text>
<text x="71" y="328.7" font-size="2.8" text-anchor="middle" font-weight="normal" fill="#222" stroke="#222" stroke-width="0.392">-1</text>
<text x="84" y="328.7" font-size="2.8" text-anchor="middle" font-weight="normal" fill="#222" stroke="#222" stroke-width="0.392">0</text>
<text x="32.6" y="273.0" font-size="3.3" text-anchor="start" font-weight="normal" fill="#111" stroke="#111" stroke-width="0.15">y = x(0.86) + x(1.6)</text>
<text x="32.6" y="276.6" font-size="3.3" text-anchor="start" font-weight="normal" fill="#111" stroke="#111" stroke-width="0.15">r² = 0.573</text>
<circle cx="35.9" cy="307" r="0.7" fill="#c8142a" fill-opacity="1.00" stroke="#a8101e" stroke-width="0.3"/>
<circle cx="35.9" cy="308.5" r="0.7" fill="#c8142a" fill-opacity="1.00" stroke="#a8101e" stroke-width="0.3"/>
<circle cx="35.9" cy="310.0" r="0.7" fill="#c8142a" fill-opacity="1.00" stroke="#a8101e" stroke-width="0.3"/>
<circle cx="35.9" cy="311.5" r="0.7" fill="#c8142a" fill-opacity="1.00" stroke="#a8101e" stroke-width="0.3"/>
<circle cx="35.9" cy="313.0" r="0.7" fill="#c8142a" fill-opacity="1.00" stroke="#a8101e" stroke-width="0.3"/>
<circle cx="35.9" cy="314.5" r="0.7" fill="#c8142a" fill-opacity="1.00" stroke="#a8101e" stroke-width="0.3"/>
<circle cx="35.9" cy="316.0" r="0.7" fill="#c8142a" fill-opacity="1.00" stroke="#a8101e" stroke-width="0.3"/>
<circle cx="35.9" cy="317.5" r="0.7" fill="#c8142a" fill-opacity="1.00" stroke="#a8101e" stroke-width="0.3"/>
<circle cx="35.3" cy="300.7" r="0.8" fill="#c8142a" fill-opacity="0.91" stroke="#a8101e" stroke-width="0.3"/>
<circle cx="47.64" cy="303.31" r="1.23" fill="#c8142a" fill-opacity="0.26" stroke="#a8101e" stroke-width="0.3"/>
<circle cx="47.9" cy="300.06" r="1.08" fill="#c8142a" fill-opacity="0.26" stroke="#a8101e" stroke-width="0.3"/>
<circle cx="48.1" cy="300.0" r="0.92" fill="#c8142a" fill-opacity="0.26" stroke="#a8101e" stroke-width="0.3"/>
<circle cx="47.22" cy="304.51" r="0.95" fill="#c8142a" fill-opacity="0.26" stroke="#a8101e" stroke-width="0.3"/>
<circle cx="44.57" cy="302.48" r="0.96" fill="#c8142a" fill-opacity="0.26" stroke="#a8101e" stroke-width="0.3"/>
<circle cx="46.59" cy="301.18" r="1.37" fill="#c8142a" fill-opacity="0.26" stroke="#a8101e" stroke-width="0.3"/>
<circle cx="45.12" cy="304.96" r="1.39" fill="#c8142a" fill-opacity="0.26" stroke="#a8101e" stroke-width="0.3"/>
<circle cx="46.92" cy="299.0" r="1.04" fill="#c8142a" fill-opacity="0.26" stroke="#a8101e" stroke-width="0.3"/>
<circle cx="48.93" cy="301.78" r="1.05" fill="#c8142a" fill-opacity="0.26" stroke="#a8101e" stroke-width="0.3"/>
<circle cx="44.33" cy="307.67" r="1.19" fill="#c8142a" fill-opacity="0.26" stroke="#a8101e" stroke-width="0.3"/>
<circle cx="44.8" cy="305.58" r="1.17" fill="#c8142a" fill-opacity="0.26" stroke="#a8101e" stroke-width="0.3"/>
<circle cx="49.66" cy="301.2" r="1.0" fill="#c8142a" fill-opacity="0.26" stroke="#a8101e" stroke-width="0.3"/>
<circle cx="44.34" cy="305.81" r="1.06" fill="#c8142a" fill-opacity="0.26" stroke="#a8101e" stroke-width="0.3"/>
<circle cx="44.86" cy="304.89" r="1.05" fill="#c8142a" fill-opacity="0.26" stroke="#a8101e" stroke-width="0.3"/>
<circle cx="42.63" cy="306.14" r="1.02" fill="#c8142a" fill-opacity="0.26" stroke="#a8101e" stroke-width="0.3"/>
<circle cx="44.68" cy="304.6" r="1.34" fill="#c8142a" fill-opacity="0.26" stroke="#a8101e" stroke-width="0.3"/>
<circle cx="44.52" cy="306.61" r="1.39" fill="#c8142a" fill-opacity="0.26" stroke="#a8101e" stroke-width="0.3"/>
<circle cx="48.02" cy="300.77" r="1.28" fill="#c8142a" fill-opacity="0.26" stroke="#a8101e" stroke-width="0.3"/>
<circle cx="47.55" cy="300.9" r="0.92" fill="#c8142a" fill-opacity="0.26" stroke="#a8101e" stroke-width="0.3"/>
<circle cx="43.21" cy="304.83" r="1.19" fill="#c8142a" fill-opacity="0.26" stroke="#a8101e" stroke-width="0.3"/>
<circle cx="43.47" cy="307.86" r="1.25" fill="#c8142a" fill-opacity="0.26" stroke="#a8101e" stroke-width="0.3"/>
<circle cx="44.35" cy="304.64" r="1.13" fill="#c8142a" fill-opacity="0.26" stroke="#a8101e" stroke-width="0.3"/>
<circle cx="41.45" cy="305.91" r="1.14" fill="#c8142a" fill-opacity="0.26" stroke="#a8101e" stroke-width="0.3"/>
<circle cx="45.75" cy="306.61" r="1.25" fill="#c8142a" fill-opacity="0.26" stroke="#a8101e" stroke-width="0.3"/>
<circle cx="42.53" cy="304.05" r="1.31" fill="#c8142a" fill-opacity="0.26" stroke="#a8101e" stroke-width="0.3"/>
<circle cx="47.06" cy="302.36" r="1.23" fill="#c8142a" fill-opacity="0.26" stroke="#a8101e" stroke-width="0.3"/>
<circle cx="48.49" cy="299.8" r="0.98" fill="#c8142a" fill-opacity="0.26" stroke="#a8101e" stroke-width="0.3"/>
<circle cx="49.31" cy="301.69" r="1.28" fill="#c8142a" fill-opacity="0.26" stroke="#a8101e" stroke-width="0.3"/>
<circle cx="48.56" cy="301.31" r="1.1" fill="#c8142a" fill-opacity="0.26" stroke="#a8101e" stroke-width="0.3"/>
<circle cx="44.33" cy="308.42" r="1.12" fill="#c8142a" fill-opacity="0.26" stroke="#a8101e" stroke-width="0.3"/>
<circle cx="43.56" cy="303.46" r="1.31" fill="#c8142a" fill-opacity="0.26" stroke="#a8101e" stroke-width="0.3"/>
<circle cx="43.67" cy="307.85" r="1.11" fill="#c8142a" fill-opacity="0.26" stroke="#a8101e" stroke-width="0.3"/>
<circle cx="44.8" cy="301.74" r="1.38" fill="#c8142a" fill-opacity="0.26" stroke="#a8101e" stroke-width="0.3"/>
<circle cx="48.67" cy="301.69" r="1.02" fill="#c8142a" fill-opacity="0.26" stroke="#a8101e" stroke-width="0.3"/>
<circle cx="47.04" cy="301.64" r="1.19" fill="#c8142a" fill-opacity="0.26" stroke="#a8101e" stroke-width="0.3"/>
<circle cx="40.08" cy="308.36" r="0.97" fill="#c8142a" fill-opacity="0.98" stroke="#a8101e" stroke-width="0.3"/>
<circle cx="42.9" cy="309.33" r="1.18" fill="#c8142a" fill-opacity="0.98" stroke="#a8101e" stroke-width="0.3"/>
<circle cx="43.64" cy="307.59" r="1.05" fill="#c8142a" fill-opacity="0.98" stroke="#a8101e" stroke-width="0.3"/>
<circle cx="41.54" cy="306.43" r="1.16" fill="#c8142a" fill-opacity="0.98" stroke="#a8101e" stroke-width="0.3"/>
<circle cx="45.51" cy="308.1" r="1.12" fill="#c8142a" fill-opacity="0.98" stroke="#a8101e" stroke-width="0.3"/>
<circle cx="42.23" cy="308.77" r="0.84" fill="#c8142a" fill-opacity="0.98" stroke="#a8101e" stroke-width="0.3"/>
<circle cx="41.45" cy="306.66" r="0.83" fill="#c8142a" fill-opacity="0.98" stroke="#a8101e" stroke-width="0.3"/>
<circle cx="40.62" cy="309.05" r="0.94" fill="#c8142a" fill-opacity="0.98" stroke="#a8101e" stroke-width="0.3"/>
<circle cx="39.43" cy="309.4" r="0.86" fill="#c8142a" fill-opacity="0.98" stroke="#a8101e" stroke-width="0.3"/>
<circle cx="41.2" cy="310.13" r="0.81" fill="#c8142a" fill-opacity="0.98" stroke="#a8101e" stroke-width="0.3"/>
<circle cx="44.63" cy="306.93" r="0.86" fill="#c8142a" fill-opacity="0.98" stroke="#a8101e" stroke-width="0.3"/>
<circle cx="41.58" cy="309.33" r="0.95" fill="#c8142a" fill-opacity="0.98" stroke="#a8101e" stroke-width="0.3"/>
<circle cx="43.42" cy="311.32" r="1.2" fill="#c8142a" fill-opacity="0.98" stroke="#a8101e" stroke-width="0.3"/>
<circle cx="42.83" cy="308.63" r="0.83" fill="#c8142a" fill-opacity="0.98" stroke="#a8101e" stroke-width="0.3"/>
<circle cx="41.1" cy="310.07" r="0.91" fill="#c8142a" fill-opacity="0.98" stroke="#a8101e" stroke-width="0.3"/>
<circle cx="42.48" cy="305.95" r="0.81" fill="#c8142a" fill-opacity="0.98" stroke="#a8101e" stroke-width="0.3"/>
<circle cx="44.48" cy="306.32" r="0.86" fill="#c8142a" fill-opacity="0.98" stroke="#a8101e" stroke-width="0.3"/>
<circle cx="41.02" cy="307.02" r="1.01" fill="#c8142a" fill-opacity="0.98" stroke="#a8101e" stroke-width="0.3"/>
<circle cx="46.06" cy="307.08" r="1.08" fill="#c8142a" fill-opacity="0.98" stroke="#a8101e" stroke-width="0.3"/>
<circle cx="41.69" cy="309.34" r="0.87" fill="#c8142a" fill-opacity="0.98" stroke="#a8101e" stroke-width="0.3"/>
<circle cx="43.96" cy="307.23" r="1.11" fill="#c8142a" fill-opacity="0.98" stroke="#a8101e" stroke-width="0.3"/>
<circle cx="41.25" cy="308.61" r="1.12" fill="#c8142a" fill-opacity="0.98" stroke="#a8101e" stroke-width="0.3"/>
<circle cx="46.03" cy="307.02" r="1.12" fill="#c8142a" fill-opacity="0.98" stroke="#a8101e" stroke-width="0.3"/>
<circle cx="45.02" cy="307.55" r="0.89" fill="#c8142a" fill-opacity="0.98" stroke="#a8101e" stroke-width="0.3"/>
<circle cx="42.41" cy="308.03" r="0.81" fill="#c8142a" fill-opacity="0.98" stroke="#a8101e" stroke-width="0.3"/>
<circle cx="40.6" cy="310.27" r="0.9" fill="#c8142a" fill-opacity="0.98" stroke="#a8101e" stroke-width="0.3"/>
<circle cx="45.61" cy="308.76" r="0.98" fill="#c8142a" fill-opacity="0.98" stroke="#a8101e" stroke-width="0.3"/>
<circle cx="46.49" cy="307.62" r="1.18" fill="#c8142a" fill-opacity="0.98" stroke="#a8101e" stroke-width="0.3"/>
<circle cx="41.35" cy="308.43" r="0.89" fill="#c8142a" fill-opacity="0.98" stroke="#a8101e" stroke-width="0.3"/>
<circle cx="40.77" cy="309.23" r="1.05" fill="#c8142a" fill-opacity="0.98" stroke="#a8101e" stroke-width="0.3"/>
<circle cx="45.72" cy="307.41" r="0.99" fill="#c8142a" fill-opacity="0.98" stroke="#a8101e" stroke-width="0.3"/>
<circle cx="44.8" cy="308.54" r="0.83" fill="#c8142a" fill-opacity="0.98" stroke="#a8101e" stroke-width="0.3"/>
<circle cx="45.31" cy="308.79" r="1.11" fill="#c8142a" fill-opacity="0.98" stroke="#a8101e" stroke-width="0.3"/>
<circle cx="43.65" cy="307.19" r="0.87" fill="#c8142a" fill-opacity="0.98" stroke="#a8101e" stroke-width="0.3"/>
<circle cx="43.12" cy="306.61" r="1.12" fill="#c8142a" fill-opacity="0.98" stroke="#a8101e" stroke-width="0.3"/>
<circle cx="43.95" cy="305.86" r="0.96" fill="#c8142a" fill-opacity="0.98" stroke="#a8101e" stroke-width="0.3"/>
<circle cx="45.34" cy="306.87" r="0.87" fill="#c8142a" fill-opacity="0.98" stroke="#a8101e" stroke-width="0.3"/>
<circle cx="40.33" cy="309.43" r="1.16" fill="#c8142a" fill-opacity="0.98" stroke="#a8101e" stroke-width="0.3"/>
<circle cx="42.34" cy="306.02" r="1.13" fill="#c8142a" fill-opacity="0.98" stroke="#a8101e" stroke-width="0.3"/>
<circle cx="45.14" cy="306.52" r="0.94" fill="#c8142a" fill-opacity="0.98" stroke="#a8101e" stroke-width="0.3"/>
<circle cx="41.5" cy="307.27" r="0.81" fill="#c8142a" fill-opacity="0.98" stroke="#a8101e" stroke-width="0.3"/>
<circle cx="45.08" cy="306.55" r="1.01" fill="#c8142a" fill-opacity="0.98" stroke="#a8101e" stroke-width="0.3"/>
<circle cx="44.01" cy="306.15" r="1.15" fill="#c8142a" fill-opacity="0.98" stroke="#a8101e" stroke-width="0.3"/>
<circle cx="42.69" cy="306.1" r="0.9" fill="#c8142a" fill-opacity="0.98" stroke="#a8101e" stroke-width="0.3"/>
<circle cx="41.22" cy="308.84" r="1.03" fill="#c8142a" fill-opacity="0.98" stroke="#a8101e" stroke-width="0.3"/>
<circle cx="41.92" cy="309.49" r="0.85" fill="#c8142a" fill-opacity="0.98" stroke="#a8101e" stroke-width="0.3"/>
<circle cx="43.58" cy="306.06" r="0.98" fill="#c8142a" fill-opacity="0.98" stroke="#a8101e" stroke-width="0.3"/>
<circle cx="45.05" cy="309.16" r="0.97" fill="#c8142a" fill-opacity="0.98" stroke="#a8101e" stroke-width="0.3"/>
<circle cx="44.26" cy="306.42" r="1.01" fill="#c8142a" fill-opacity="0.98" stroke="#a8101e" stroke-width="0.3"/>
<circle cx="40.92" cy="307.09" r="0.98" fill="#c8142a" fill-opacity="0.98" stroke="#a8101e" stroke-width="0.3"/>
<circle cx="39.84" cy="308.76" r="1.12" fill="#c8142a" fill-opacity="0.98" stroke="#a8101e" stroke-width="0.3"/>
<circle cx="41.9" cy="310.07" r="1.09" fill="#c8142a" fill-opacity="0.98" stroke="#a8101e" stroke-width="0.3"/>
<circle cx="42.39" cy="307.75" r="1.01" fill="#c8142a" fill-opacity="0.98" stroke="#a8101e" stroke-width="0.3"/>
<circle cx="44.43" cy="308.98" r="0.84" fill="#c8142a" fill-opacity="0.98" stroke="#a8101e" stroke-width="0.3"/>
<circle cx="42.06" cy="307.53" r="0.91" fill="#c8142a" fill-opacity="0.98" stroke="#a8101e" stroke-width="0.3"/>
<circle cx="41.73" cy="312.5" r="1.02" fill="#c8142a" fill-opacity="1.00" stroke="#a8101e" stroke-width="0.3"/>
<circle cx="43.26" cy="313.42" r="0.98" fill="#c8142a" fill-opacity="1.00" stroke="#a8101e" stroke-width="0.3"/>
<circle cx="41.17" cy="313.53" r="1.0" fill="#c8142a" fill-opacity="1.00" stroke="#a8101e" stroke-width="0.3"/>
<circle cx="41.24" cy="312.9" r="1.01" fill="#c8142a" fill-opacity="1.00" stroke="#a8101e" stroke-width="0.3"/>
<circle cx="42.38" cy="315.31" r="1.08" fill="#c8142a" fill-opacity="1.00" stroke="#a8101e" stroke-width="0.3"/>
<circle cx="43.78" cy="312.72" r="0.9" fill="#c8142a" fill-opacity="1.00" stroke="#a8101e" stroke-width="0.3"/>
<circle cx="42.68" cy="314.79" r="1.14" fill="#c8142a" fill-opacity="1.00" stroke="#a8101e" stroke-width="0.3"/>
<circle cx="38.01" cy="315.82" r="0.98" fill="#c8142a" fill-opacity="1.00" stroke="#a8101e" stroke-width="0.3"/>
<circle cx="38.25" cy="316.49" r="0.83" fill="#c8142a" fill-opacity="1.00" stroke="#a8101e" stroke-width="0.3"/>
<circle cx="42.44" cy="313.74" r="1.16" fill="#c8142a" fill-opacity="1.00" stroke="#a8101e" stroke-width="0.3"/>
<circle cx="40.38" cy="316.95" r="1.06" fill="#c8142a" fill-opacity="1.00" stroke="#a8101e" stroke-width="0.3"/>
<circle cx="40.98" cy="317.37" r="1.19" fill="#c8142a" fill-opacity="1.00" stroke="#a8101e" stroke-width="0.3"/>
<circle cx="41.52" cy="317.02" r="0.96" fill="#c8142a" fill-opacity="1.00" stroke="#a8101e" stroke-width="0.3"/>
<circle cx="42.6" cy="315.35" r="1.13" fill="#c8142a" fill-opacity="1.00" stroke="#a8101e" stroke-width="0.3"/>
<circle cx="39.3" cy="316.31" r="1.01" fill="#c8142a" fill-opacity="1.00" stroke="#a8101e" stroke-width="0.3"/>
<circle cx="39.01" cy="314.66" r="0.93" fill="#c8142a" fill-opacity="1.00" stroke="#a8101e" stroke-width="0.3"/>
<circle cx="39.67" cy="311.8" r="1.02" fill="#c8142a" fill-opacity="1.00" stroke="#a8101e" stroke-width="0.3"/>
<circle cx="38.67" cy="313.63" r="0.93" fill="#c8142a" fill-opacity="1.00" stroke="#a8101e" stroke-width="0.3"/>
<circle cx="41.23" cy="313.47" r="0.83" fill="#c8142a" fill-opacity="1.00" stroke="#a8101e" stroke-width="0.3"/>
<circle cx="43.56" cy="311.7" r="1.19" fill="#c8142a" fill-opacity="1.00" stroke="#a8101e" stroke-width="0.3"/>
<circle cx="38.46" cy="316.33" r="0.82" fill="#c8142a" fill-opacity="1.00" stroke="#a8101e" stroke-width="0.3"/>
<circle cx="40.84" cy="311.96" r="0.85" fill="#c8142a" fill-opacity="1.00" stroke="#a8101e" stroke-width="0.3"/>
<circle cx="42.07" cy="315.61" r="1.13" fill="#c8142a" fill-opacity="1.00" stroke="#a8101e" stroke-width="0.3"/>
<circle cx="38.55" cy="315.09" r="1.17" fill="#c8142a" fill-opacity="1.00" stroke="#a8101e" stroke-width="0.3"/>
<circle cx="41.77" cy="314.21" r="0.84" fill="#c8142a" fill-opacity="1.00" stroke="#a8101e" stroke-width="0.3"/>
<circle cx="39.93" cy="317.52" r="0.97" fill="#c8142a" fill-opacity="1.00" stroke="#a8101e" stroke-width="0.3"/>
<circle cx="40.95" cy="317.94" r="1.05" fill="#c8142a" fill-opacity="1.00" stroke="#a8101e" stroke-width="0.3"/>
<circle cx="40.19" cy="311.42" r="1.14" fill="#c8142a" fill-opacity="1.00" stroke="#a8101e" stroke-width="0.3"/>
<circle cx="40.64" cy="317.82" r="0.98" fill="#c8142a" fill-opacity="1.00" stroke="#a8101e" stroke-width="0.3"/>
<circle cx="40.39" cy="315.41" r="1.17" fill="#c8142a" fill-opacity="1.00" stroke="#a8101e" stroke-width="0.3"/>
<circle cx="38.5" cy="314.99" r="1.01" fill="#c8142a" fill-opacity="1.00" stroke="#a8101e" stroke-width="0.3"/>
<circle cx="38.32" cy="315.14" r="0.86" fill="#c8142a" fill-opacity="1.00" stroke="#a8101e" stroke-width="0.3"/>
<circle cx="38.02" cy="316.55" r="0.92" fill="#c8142a" fill-opacity="1.00" stroke="#a8101e" stroke-width="0.3"/>
<circle cx="41.07" cy="316.06" r="0.92" fill="#c8142a" fill-opacity="1.00" stroke="#a8101e" stroke-width="0.3"/>
<circle cx="39.5" cy="313.58" r="0.94" fill="#c8142a" fill-opacity="1.00" stroke="#a8101e" stroke-width="0.3"/>
<circle cx="38.1" cy="316.86" r="0.81" fill="#c8142a" fill-opacity="1.00" stroke="#a8101e" stroke-width="0.3"/>
<circle cx="41.76" cy="312.84" r="0.88" fill="#c8142a" fill-opacity="1.00" stroke="#a8101e" stroke-width="0.3"/>
<circle cx="42.35" cy="315.32" r="0.84" fill="#c8142a" fill-opacity="1.00" stroke="#a8101e" stroke-width="0.3"/>
<circle cx="41.6" cy="312.04" r="1.0" fill="#c8142a" fill-opacity="1.00" stroke="#a8101e" stroke-width="0.3"/>
<circle cx="41.51" cy="311.85" r="1.0" fill="#c8142a" fill-opacity="1.00" stroke="#a8101e" stroke-width="0.3"/>
<circle cx="35.9" cy="319.3" r="0.6" fill="#c8142a" fill-opacity="1.00" stroke="#a8101e" stroke-width="0.3"/>
<circle cx="39.6" cy="319.3" r="0.6" fill="#c8142a" fill-opacity="1.00" stroke="#a8101e" stroke-width="0.3"/>
<circle cx="39" cy="323.6" r="0.6" fill="#c8142a" fill-opacity="1.00" stroke="#a8101e" stroke-width="0.3"/>
<circle cx="42.3" cy="323.6" r="0.6" fill="#c8142a" fill-opacity="1.00" stroke="#a8101e" stroke-width="0.3"/>
<circle cx="46" cy="323.6" r="0.6" fill="#c8142a" fill-opacity="1.00" stroke="#a8101e" stroke-width="0.3"/>
<circle cx="50.3" cy="298" r="1.2" fill="#c8142a" fill-opacity="0.20" stroke="#a8101e" stroke-width="0.3"/>
<circle cx="46.5" cy="297.2" r="1.1" fill="#c8142a" fill-opacity="0.26" stroke="#a8101e" stroke-width="0.3"/>
<line x1="49.5" y1="302.5" x2="71" y2="270.3" stroke="#3a3a3a" stroke-width="0.85"/>
<text x="52.5" y="334.8" font-size="3.0" text-anchor="middle" font-weight="normal" fill="#222" stroke="#222" stroke-width="0.420">MIXCR_TCRA</text>
<text x="22.4" y="301" font-size="2.9" text-anchor="middle" font-weight="normal" fill="#222" transform="rotate(-90 22.4 301)" stroke="#222" stroke-width="0.406">TRUST4_TCRA</text>
<rect x="88.3" y="268.3" width="13.5" height="56.30000000000001" fill="#fff" stroke="#c8c8c8" stroke-width="0.45"/>
<path d="M88.3,294.5 L89.8,295 L91.5,297.5 L91,301 L92,305 L91.2,309 L91.8,313 L90.8,317 L90,320 L89.4,322.6 L100.8,322.8 L100.8,323.8 L88.3,324 Z" fill="#f0a8a8" stroke="#d85a5a" stroke-width="0.35"/>
<rect x="123.3" y="253.6" width="58.500000000000014" height="13.400000000000006" fill="#fff" stroke="#c8c8c8" stroke-width="0.45"/>
<path d="M126,267 L128,266.4 L131,265.6 L134,265.4 L137,265.5 L140,265.9 L143,266.5 L143,267 Z" fill="#f3c0c0" stroke="#e08a8a" stroke-width="0.35"/>
<rect x="128.45000000000002" y="255.8" width="0.9" height="11.2" fill="#d86a6a"/>
<rect x="132.29999999999998" y="261.5" width="0.8" height="5.5" fill="#d86a6a"/>
<rect x="134.15" y="265.0" width="0.7" height="2" fill="#d86a6a"/>
<rect x="125.2" y="269" width="56.2" height="56.80000000000001" fill="#fff" stroke="#c8c8c8" stroke-width="0.45"/>
<text x="122.2" y="273.09999999999997" font-size="2.8" text-anchor="middle" font-weight="normal" fill="#222" stroke="#222" stroke-width="0.392">0</text>
<text x="122.2" y="284.4" font-size="2.8" text-anchor="middle" font-weight="normal" fill="#222" stroke="#222" stroke-width="0.392">-1</text>
<text x="122.2" y="298.2" font-size="2.8" text-anchor="middle" font-weight="normal" fill="#222" stroke="#222" stroke-width="0.392">-2</text>
<text x="122.2" y="310.4" font-size="2.8" text-anchor="middle" font-weight="normal" fill="#222" stroke="#222" stroke-width="0.392">-3</text>
<text x="122.2" y="322.4" font-size="2.8" text-anchor="middle" font-weight="normal" fill="#222" stroke="#222" stroke-width="0.392">-4</text>
<text x="127.3" y="329.7" font-size="2.8" text-anchor="middle" font-weight="normal" fill="#222" stroke="#222" stroke-width="0.392">-4</text>
<text x="139" y="329.7" font-size="2.8" text-anchor="middle" font-weight="normal" fill="#222" stroke="#222" stroke-width="0.392">-3</text>
<text x="152.5" y="329.7" font-size="2.8" text-anchor="middle" font-weight="normal" fill="#222" stroke="#222" stroke-width="0.392">-2</text>
<text x="165.9" y="329.7" font-size="2.8" text-anchor="middle" font-weight="normal" fill="#222" stroke="#222" stroke-width="0.392">-1</text>
<text x="179.5" y="329.7" font-size="2.8" text-anchor="middle" font-weight="normal" fill="#222" stroke="#222" stroke-width="0.392">0</text>
<text x="127.5" y="273.6" font-size="3.3" text-anchor="start" font-weight="normal" fill="#111" stroke="#111" stroke-width="0.15">y = x(0.578) + x(27)</text>
<text x="127.5" y="277.20000000000005" font-size="3.3" text-anchor="start" font-weight="normal" fill="#111" stroke="#111" stroke-width="0.15">r² = 0.345</text>
<circle cx="128.8" cy="299" r="0.75" fill="#c8142a" fill-opacity="1.00" stroke="#a8101e" stroke-width="0.3"/>
<circle cx="128.8" cy="300.7" r="0.75" fill="#c8142a" fill-opacity="1.00" stroke="#a8101e" stroke-width="0.3"/>
<circle cx="128.8" cy="302.4" r="0.75" fill="#c8142a" fill-opacity="1.00" stroke="#a8101e" stroke-width="0.3"/>
<circle cx="128.8" cy="304.1" r="0.75" fill="#c8142a" fill-opacity="1.00" stroke="#a8101e" stroke-width="0.3"/>
<circle cx="128.8" cy="305.8" r="0.75" fill="#c8142a" fill-opacity="1.00" stroke="#a8101e" stroke-width="0.3"/>
<circle cx="128.8" cy="307.5" r="0.75" fill="#c8142a" fill-opacity="1.00" stroke="#a8101e" stroke-width="0.3"/>
<circle cx="128.8" cy="309.2" r="0.75" fill="#c8142a" fill-opacity="1.00" stroke="#a8101e" stroke-width="0.3"/>
<circle cx="128.8" cy="310.9" r="0.75" fill="#c8142a" fill-opacity="1.00" stroke="#a8101e" stroke-width="0.3"/>
<circle cx="128.8" cy="312.6" r="0.75" fill="#c8142a" fill-opacity="1.00" stroke="#a8101e" stroke-width="0.3"/>
<circle cx="128.8" cy="314.3" r="0.75" fill="#c8142a" fill-opacity="1.00" stroke="#a8101e" stroke-width="0.3"/>
<circle cx="128.8" cy="316.0" r="0.75" fill="#c8142a" fill-opacity="1.00" stroke="#a8101e" stroke-width="0.3"/>
<circle cx="128.8" cy="317.7" r="0.75" fill="#c8142a" fill-opacity="1.00" stroke="#a8101e" stroke-width="0.3"/>
<circle cx="133.1" cy="300" r="0.75" fill="#c8142a" fill-opacity="1.00" stroke="#a8101e" stroke-width="0.3"/>
<circle cx="133.1" cy="301.7" r="0.75" fill="#c8142a" fill-opacity="1.00" stroke="#a8101e" stroke-width="0.3"/>
<circle cx="133.1" cy="303.4" r="0.75" fill="#c8142a" fill-opacity="1.00" stroke="#a8101e" stroke-width="0.3"/>
<circle cx="133.1" cy="305.1" r="0.75" fill="#c8142a" fill-opacity="1.00" stroke="#a8101e" stroke-width="0.3"/>
<circle cx="133.1" cy="306.8" r="0.75" fill="#c8142a" fill-opacity="1.00" stroke="#a8101e" stroke-width="0.3"/>
<circle cx="133.1" cy="308.5" r="0.75" fill="#c8142a" fill-opacity="1.00" stroke="#a8101e" stroke-width="0.3"/>
<circle cx="133.1" cy="310.2" r="0.75" fill="#c8142a" fill-opacity="1.00" stroke="#a8101e" stroke-width="0.3"/>
<circle cx="133.1" cy="311.9" r="0.75" fill="#c8142a" fill-opacity="1.00" stroke="#a8101e" stroke-width="0.3"/>
<circle cx="133.1" cy="313.6" r="0.75" fill="#c8142a" fill-opacity="1.00" stroke="#a8101e" stroke-width="0.3"/>
<circle cx="133.1" cy="315.3" r="0.75" fill="#c8142a" fill-opacity="1.00" stroke="#a8101e" stroke-width="0.3"/>
<circle cx="133.1" cy="317.0" r="0.75" fill="#c8142a" fill-opacity="1.00" stroke="#a8101e" stroke-width="0.3"/>
<circle cx="133.1" cy="318.7" r="0.75" fill="#c8142a" fill-opacity="1.00" stroke="#a8101e" stroke-width="0.3"/>
<circle cx="133.1" cy="320.4" r="0.75" fill="#c8142a" fill-opacity="1.00" stroke="#a8101e" stroke-width="0.3"/>
<circle cx="141.34" cy="305.33" r="0.84" fill="#c8142a" fill-opacity="0.78" stroke="#a8101e" stroke-width="0.3"/>
<circle cx="139.82" cy="302.59" r="0.95" fill="#c8142a" fill-opacity="0.78" stroke="#a8101e" stroke-width="0.3"/>
<circle cx="136.61" cy="309.8" r="0.72" fill="#c8142a" fill-opacity="0.78" stroke="#a8101e" stroke-width="0.3"/>
<circle cx="134.24" cy="314.41" r="1.0" fill="#c8142a" fill-opacity="0.78" stroke="#a8101e" stroke-width="0.3"/>
<circle cx="135.1" cy="312.27" r="0.73" fill="#c8142a" fill-opacity="0.78" stroke="#a8101e" stroke-width="0.3"/>
<circle cx="140.91" cy="302.56" r="0.97" fill="#c8142a" fill-opacity="0.78" stroke="#a8101e" stroke-width="0.3"/>
<circle cx="135.67" cy="311.87" r="0.82" fill="#c8142a" fill-opacity="0.78" stroke="#a8101e" stroke-width="0.3"/>
<circle cx="135.47" cy="308.7" r="0.88" fill="#c8142a" fill-opacity="0.78" stroke="#a8101e" stroke-width="0.3"/>
<circle cx="140.35" cy="312.74" r="1.09" fill="#c8142a" fill-opacity="0.78" stroke="#a8101e" stroke-width="0.3"/>
<circle cx="136.22" cy="307.23" r="1.09" fill="#c8142a" fill-opacity="0.78" stroke="#a8101e" stroke-width="0.3"/>
<circle cx="136.48" cy="311.48" r="0.7" fill="#c8142a" fill-opacity="0.78" stroke="#a8101e" stroke-width="0.3"/>
<circle cx="137.4" cy="310.3" r="0.9" fill="#c8142a" fill-opacity="0.78" stroke="#a8101e" stroke-width="0.3"/>
<circle cx="137.23" cy="313.49" r="0.7" fill="#c8142a" fill-opacity="0.78" stroke="#a8101e" stroke-width="0.3"/>
<circle cx="134.64" cy="312.07" r="0.86" fill="#c8142a" fill-opacity="0.78" stroke="#a8101e" stroke-width="0.3"/>
<circle cx="133.75" cy="315.91" r="0.82" fill="#c8142a" fill-opacity="0.78" stroke="#a8101e" stroke-width="0.3"/>
<circle cx="137.83" cy="312.99" r="0.91" fill="#c8142a" fill-opacity="0.78" stroke="#a8101e" stroke-width="0.3"/>
<circle cx="139.33" cy="303.98" r="0.99" fill="#c8142a" fill-opacity="0.78" stroke="#a8101e" stroke-width="0.3"/>
<circle cx="137.83" cy="301.53" r="0.83" fill="#c8142a" fill-opacity="0.78" stroke="#a8101e" stroke-width="0.3"/>
<circle cx="136.47" cy="299.5" r="0.99" fill="#c8142a" fill-opacity="0.78" stroke="#a8101e" stroke-width="0.3"/>
<circle cx="135.09" cy="305.4" r="1.03" fill="#c8142a" fill-opacity="0.78" stroke="#a8101e" stroke-width="0.3"/>
<circle cx="139.42" cy="301.49" r="0.99" fill="#c8142a" fill-opacity="0.78" stroke="#a8101e" stroke-width="0.3"/>
<circle cx="136.06" cy="302.52" r="0.91" fill="#c8142a" fill-opacity="0.78" stroke="#a8101e" stroke-width="0.3"/>
<circle cx="140.01" cy="308.42" r="1.02" fill="#c8142a" fill-opacity="0.78" stroke="#a8101e" stroke-width="0.3"/>
<circle cx="139.0" cy="302.6" r="1.06" fill="#c8142a" fill-opacity="0.78" stroke="#a8101e" stroke-width="0.3"/>
<circle cx="139.43" cy="305.19" r="0.79" fill="#c8142a" fill-opacity="0.78" stroke="#a8101e" stroke-width="0.3"/>
<circle cx="134.46" cy="316.18" r="0.84" fill="#c8142a" fill-opacity="0.78" stroke="#a8101e" stroke-width="0.3"/>
<circle cx="139.21" cy="315.42" r="0.92" fill="#c8142a" fill-opacity="0.78" stroke="#a8101e" stroke-width="0.3"/>
<circle cx="138.88" cy="306.11" r="0.97" fill="#c8142a" fill-opacity="0.78" stroke="#a8101e" stroke-width="0.3"/>
<circle cx="134.52" cy="308.07" r="1.02" fill="#c8142a" fill-opacity="0.78" stroke="#a8101e" stroke-width="0.3"/>
<circle cx="138.32" cy="303.91" r="0.91" fill="#c8142a" fill-opacity="0.78" stroke="#a8101e" stroke-width="0.3"/>
<circle cx="135.27" cy="305.14" r="0.99" fill="#c8142a" fill-opacity="0.78" stroke="#a8101e" stroke-width="0.3"/>
<circle cx="134.51" cy="312.27" r="0.81" fill="#c8142a" fill-opacity="0.78" stroke="#a8101e" stroke-width="0.3"/>
<circle cx="136.33" cy="304.02" r="1.0" fill="#c8142a" fill-opacity="0.78" stroke="#a8101e" stroke-width="0.3"/>
<circle cx="138.71" cy="299.92" r="0.85" fill="#c8142a" fill-opacity="0.78" stroke="#a8101e" stroke-width="0.3"/>
<circle cx="138.96" cy="308.75" r="1.01" fill="#c8142a" fill-opacity="0.78" stroke="#a8101e" stroke-width="0.3"/>
<circle cx="138.97" cy="306.31" r="0.73" fill="#c8142a" fill-opacity="0.78" stroke="#a8101e" stroke-width="0.3"/>
<circle cx="135.48" cy="314.24" r="1.0" fill="#c8142a" fill-opacity="0.78" stroke="#a8101e" stroke-width="0.3"/>
<circle cx="137.85" cy="311.72" r="0.7" fill="#c8142a" fill-opacity="0.78" stroke="#a8101e" stroke-width="0.3"/>
<circle cx="135.41" cy="315.77" r="0.97" fill="#c8142a" fill-opacity="0.78" stroke="#a8101e" stroke-width="0.3"/>
<circle cx="139.34" cy="305.02" r="0.82" fill="#c8142a" fill-opacity="0.78" stroke="#a8101e" stroke-width="0.3"/>
<circle cx="137.6" cy="307.93" r="0.89" fill="#c8142a" fill-opacity="0.78" stroke="#a8101e" stroke-width="0.3"/>
<circle cx="139.62" cy="315.22" r="0.78" fill="#c8142a" fill-opacity="0.78" stroke="#a8101e" stroke-width="0.3"/>
<circle cx="141.62" cy="300.21" r="0.71" fill="#c8142a" fill-opacity="0.78" stroke="#a8101e" stroke-width="0.3"/>
<circle cx="139.82" cy="309.21" r="1.09" fill="#c8142a" fill-opacity="0.78" stroke="#a8101e" stroke-width="0.3"/>
<circle cx="136.18" cy="308.96" r="0.78" fill="#c8142a" fill-opacity="0.78" stroke="#a8101e" stroke-width="0.3"/>
<circle cx="136.79" cy="300.24" r="0.93" fill="#c8142a" fill-opacity="0.78" stroke="#a8101e" stroke-width="0.3"/>
<circle cx="137.24" cy="314.54" r="1.08" fill="#c8142a" fill-opacity="0.78" stroke="#a8101e" stroke-width="0.3"/>
<circle cx="139.16" cy="314.92" r="0.9" fill="#c8142a" fill-opacity="0.78" stroke="#a8101e" stroke-width="0.3"/>
<circle cx="139.91" cy="301.63" r="0.79" fill="#c8142a" fill-opacity="0.78" stroke="#a8101e" stroke-width="0.3"/>
<circle cx="138.5" cy="301.28" r="0.71" fill="#c8142a" fill-opacity="0.78" stroke="#a8101e" stroke-width="0.3"/>
<circle cx="136.75" cy="316.93" r="0.88" fill="#c8142a" fill-opacity="0.78" stroke="#a8101e" stroke-width="0.3"/>
<circle cx="135.05" cy="311.45" r="0.84" fill="#c8142a" fill-opacity="0.78" stroke="#a8101e" stroke-width="0.3"/>
<circle cx="139.66" cy="311.72" r="0.7" fill="#c8142a" fill-opacity="0.78" stroke="#a8101e" stroke-width="0.3"/>
<circle cx="140.53" cy="304.12" r="0.75" fill="#c8142a" fill-opacity="0.78" stroke="#a8101e" stroke-width="0.3"/>
<circle cx="140.05" cy="300.95" r="1.06" fill="#c8142a" fill-opacity="0.78" stroke="#a8101e" stroke-width="0.3"/>
<circle cx="136.54" cy="311.83" r="0.86" fill="#c8142a" fill-opacity="0.78" stroke="#a8101e" stroke-width="0.3"/>
<circle cx="139.38" cy="299.59" r="0.84" fill="#c8142a" fill-opacity="0.78" stroke="#a8101e" stroke-width="0.3"/>
<circle cx="136.18" cy="309.34" r="0.72" fill="#c8142a" fill-opacity="0.78" stroke="#a8101e" stroke-width="0.3"/>
<circle cx="139.2" cy="315.47" r="0.81" fill="#c8142a" fill-opacity="0.78" stroke="#a8101e" stroke-width="0.3"/>
<circle cx="137.03" cy="300.44" r="0.81" fill="#c8142a" fill-opacity="0.78" stroke="#a8101e" stroke-width="0.3"/>
<circle cx="135.79" cy="307.83" r="0.85" fill="#c8142a" fill-opacity="0.78" stroke="#a8101e" stroke-width="0.3"/>
<circle cx="141.23" cy="300.56" r="1.02" fill="#c8142a" fill-opacity="0.78" stroke="#a8101e" stroke-width="0.3"/>
<circle cx="140.77" cy="306.27" r="1.08" fill="#c8142a" fill-opacity="0.78" stroke="#a8101e" stroke-width="0.3"/>
<circle cx="139.34" cy="307.55" r="0.72" fill="#c8142a" fill-opacity="0.78" stroke="#a8101e" stroke-width="0.3"/>
<circle cx="137.94" cy="304.15" r="1.0" fill="#c8142a" fill-opacity="0.78" stroke="#a8101e" stroke-width="0.3"/>
<circle cx="136.69" cy="305.56" r="0.72" fill="#c8142a" fill-opacity="0.78" stroke="#a8101e" stroke-width="0.3"/>
<circle cx="136.21" cy="300.5" r="0.89" fill="#c8142a" fill-opacity="0.78" stroke="#a8101e" stroke-width="0.3"/>
<circle cx="136.16" cy="310.83" r="1.0" fill="#c8142a" fill-opacity="0.78" stroke="#a8101e" stroke-width="0.3"/>
<circle cx="137.18" cy="299.74" r="0.96" fill="#c8142a" fill-opacity="0.78" stroke="#a8101e" stroke-width="0.3"/>
<circle cx="137.78" cy="311.78" r="0.86" fill="#c8142a" fill-opacity="0.78" stroke="#a8101e" stroke-width="0.3"/>
<circle cx="134.92" cy="313.82" r="0.78" fill="#c8142a" fill-opacity="0.78" stroke="#a8101e" stroke-width="0.3"/>
<circle cx="138.59" cy="301.14" r="0.79" fill="#c8142a" fill-opacity="0.78" stroke="#a8101e" stroke-width="0.3"/>
<circle cx="141.87" cy="301.51" r="0.88" fill="#c8142a" fill-opacity="0.78" stroke="#a8101e" stroke-width="0.3"/>
<circle cx="135.06" cy="314.33" r="0.74" fill="#c8142a" fill-opacity="0.78" stroke="#a8101e" stroke-width="0.3"/>
<circle cx="134.8" cy="310.71" r="0.8" fill="#c8142a" fill-opacity="0.78" stroke="#a8101e" stroke-width="0.3"/>
<circle cx="137.77" cy="312.53" r="1.05" fill="#c8142a" fill-opacity="0.78" stroke="#a8101e" stroke-width="0.3"/>
<circle cx="137.73" cy="303.82" r="0.87" fill="#c8142a" fill-opacity="0.78" stroke="#a8101e" stroke-width="0.3"/>
<circle cx="137.04" cy="307.73" r="0.84" fill="#c8142a" fill-opacity="0.78" stroke="#a8101e" stroke-width="0.3"/>
<circle cx="135.47" cy="315.75" r="1.09" fill="#c8142a" fill-opacity="0.78" stroke="#a8101e" stroke-width="0.3"/>
<circle cx="137.07" cy="314.8" r="0.95" fill="#c8142a" fill-opacity="0.78" stroke="#a8101e" stroke-width="0.3"/>
<circle cx="136.66" cy="301.69" r="0.81" fill="#c8142a" fill-opacity="0.78" stroke="#a8101e" stroke-width="0.3"/>
<circle cx="136.64" cy="312.58" r="0.88" fill="#c8142a" fill-opacity="0.78" stroke="#a8101e" stroke-width="0.3"/>
<circle cx="140.99" cy="300.57" r="1.05" fill="#c8142a" fill-opacity="0.78" stroke="#a8101e" stroke-width="0.3"/>
<circle cx="133.78" cy="316.27" r="0.98" fill="#c8142a" fill-opacity="0.78" stroke="#a8101e" stroke-width="0.3"/>
<circle cx="138.42" cy="301.31" r="0.93" fill="#c8142a" fill-opacity="0.78" stroke="#a8101e" stroke-width="0.3"/>
<circle cx="142.7" cy="297" r="1.1" fill="#c8142a" fill-opacity="0.26" stroke="#a8101e" stroke-width="0.3"/>
<circle cx="144.3" cy="300.7" r="1.1" fill="#c8142a" fill-opacity="0.26" stroke="#a8101e" stroke-width="0.3"/>
<circle cx="143.7" cy="306" r="1.1" fill="#c8142a" fill-opacity="0.26" stroke="#a8101e" stroke-width="0.3"/>
<circle cx="141" cy="296" r="1.0" fill="#c8142a" fill-opacity="0.39" stroke="#a8101e" stroke-width="0.3"/>
<circle cx="138" cy="297.5" r="0.9" fill="#c8142a" fill-opacity="0.65" stroke="#a8101e" stroke-width="0.3"/>
<line x1="140.4" y1="305" x2="164.5" y2="271.5" stroke="#3a3a3a" stroke-width="0.85"/>
<text x="149.5" y="334.4" font-size="3.0" text-anchor="middle" font-weight="normal" fill="#222" stroke="#222" stroke-width="0.420">MIXCR_TCRB</text>
<text x="115.7" y="300.7" font-size="2.9" text-anchor="middle" font-weight="normal" fill="#222" transform="rotate(-90 115.7 300.7)" stroke="#222" stroke-width="0.406">TRUST4_TCRB</text>
<rect x="183" y="269" width="13.699999999999989" height="56.80000000000001" fill="#fff" stroke="#c8c8c8" stroke-width="0.45"/>
<path d="M183,293.5 L185,294 L187.5,296 L188.5,298.5 L187.2,301 L186.4,304 L186.8,307 L185.8,310 L185.6,313 L185,317 L184.4,320.5 L184,322.2 L195.2,322.5 L195.2,323.5 L183,324 Z" fill="#f0a8a8" stroke="#d85a5a" stroke-width="0.35"/>
<text x="254.9" y="263.2" font-size="4.5" text-anchor="middle" font-weight="bold" fill="#111" stroke="#111" stroke-width="0.18">TRUST4: Correlation of TCRA and TCRB</text>
<line x1="218.7" y1="269.5" x2="218.7" y2="316.4" stroke="#666" stroke-width="0.9"/>
<line x1="218.7" y1="316.4" x2="291" y2="316.4" stroke="#666" stroke-width="0.9"/>
<line x1="217.1" y1="269.6" x2="218.7" y2="269.6" stroke="#555" stroke-width="0.6"/>
<text x="216.6" y="270.6" font-size="3.1" text-anchor="end" font-weight="bold" fill="#333" stroke="#333" stroke-width="0.434">250</text>
<line x1="217.1" y1="278.9" x2="218.7" y2="278.9" stroke="#555" stroke-width="0.6"/>
<text x="216.6" y="279.9" font-size="3.1" text-anchor="end" font-weight="bold" fill="#333" stroke="#333" stroke-width="0.434">200</text>
<line x1="217.1" y1="288.2" x2="218.7" y2="288.2" stroke="#555" stroke-width="0.6"/>
<text x="216.6" y="289.2" font-size="3.1" text-anchor="end" font-weight="bold" fill="#333" stroke="#333" stroke-width="0.434">150</text>
<line x1="217.1" y1="297.6" x2="218.7" y2="297.6" stroke="#555" stroke-width="0.6"/>
<text x="216.6" y="298.6" font-size="3.1" text-anchor="end" font-weight="bold" fill="#333" stroke="#333" stroke-width="0.434">100</text>
<line x1="217.1" y1="307.1" x2="218.7" y2="307.1" stroke="#555" stroke-width="0.6"/>
<text x="216.6" y="308.1" font-size="3.1" text-anchor="end" font-weight="bold" fill="#333" stroke="#333" stroke-width="0.434">50</text>
<line x1="217.1" y1="316.4" x2="218.7" y2="316.4" stroke="#555" stroke-width="0.6"/>
<text x="216.6" y="317.4" font-size="3.1" text-anchor="end" font-weight="bold" fill="#333" stroke="#333" stroke-width="0.434">0</text>
<line x1="219.3" y1="316.4" x2="219.3" y2="318.0" stroke="#555" stroke-width="0.6"/>
<text x="219.3" y="321.7" font-size="3.1" text-anchor="middle" font-weight="bold" fill="#333" stroke="#333" stroke-width="0.434">0</text>
<line x1="236.4" y1="316.4" x2="236.4" y2="318.0" stroke="#555" stroke-width="0.6"/>
<text x="236.4" y="321.7" font-size="3.1" text-anchor="middle" font-weight="bold" fill="#333" stroke="#333" stroke-width="0.434">50</text>
<line x1="254" y1="316.4" x2="254" y2="318.0" stroke="#555" stroke-width="0.6"/>
<text x="254" y="321.7" font-size="3.1" text-anchor="middle" font-weight="bold" fill="#333" stroke="#333" stroke-width="0.434">100</text>
<line x1="271.6" y1="316.4" x2="271.6" y2="318.0" stroke="#555" stroke-width="0.6"/>
<text x="271.6" y="321.7" font-size="3.1" text-anchor="middle" font-weight="bold" fill="#333" stroke="#333" stroke-width="0.434">150</text>
<line x1="289.5" y1="316.4" x2="289.5" y2="318.0" stroke="#555" stroke-width="0.6"/>
<text x="289.5" y="321.7" font-size="3.1" text-anchor="middle" font-weight="bold" fill="#333" stroke="#333" stroke-width="0.434">200</text>
<text x="252.7" y="328.0" font-size="4.2" text-anchor="middle" font-weight="bold" fill="#1a1a1a" stroke="#1a1a1a" stroke-width="0.2">TCRB</text>
<text x="209.0" y="292.9" font-size="4.0" text-anchor="middle" font-weight="bold" fill="#1a1a1a" transform="rotate(-90 209.0 292.9)" stroke="#1a1a1a" stroke-width="0.2">TCRA</text>
<rect x="221.46" y="312.36" width="1.4" height="1.4" fill="#111"/>
<rect x="222.44" y="313.06" width="1.4" height="1.4" fill="#111"/>
<rect x="218.90" y="314.35" width="1.4" height="1.4" fill="#111"/>
<rect x="230.19" y="311.42" width="1.4" height="1.4" fill="#111"/>
<rect x="220.06" y="313.32" width="1.4" height="1.4" fill="#111"/>
<rect x="221.80" y="314.56" width="1.4" height="1.4" fill="#111"/>
<rect x="226.44" y="311.55" width="1.4" height="1.4" fill="#111"/>
<rect x="218.90" y="314.83" width="1.4" height="1.4" fill="#111"/>
<rect x="220.33" y="314.68" width="1.4" height="1.4" fill="#111"/>
<rect x="221.96" y="313.83" width="1.4" height="1.4" fill="#111"/>
<rect x="223.85" y="311.90" width="1.4" height="1.4" fill="#111"/>
<rect x="226.25" y="312.09" width="1.4" height="1.4" fill="#111"/>
<rect x="235.66" y="309.27" width="1.4" height="1.4" fill="#111"/>
<rect x="227.57" y="312.23" width="1.4" height="1.4" fill="#111"/>
<rect x="222.93" y="314.76" width="1.4" height="1.4" fill="#111"/>
<rect x="223.39" y="312.67" width="1.4" height="1.4" fill="#111"/>
<rect x="232.90" y="309.62" width="1.4" height="1.4" fill="#111"/>
<rect x="221.46" y="313.76" width="1.4" height="1.4" fill="#111"/>
<rect x="233.06" y="309.70" width="1.4" height="1.4" fill="#111"/>
<rect x="226.58" y="311.32" width="1.4" height="1.4" fill="#111"/>
<rect x="218.90" y="315.10" width="1.4" height="1.4" fill="#111"/>
<rect x="229.36" y="311.71" width="1.4" height="1.4" fill="#111"/>
<rect x="221.23" y="315.10" width="1.4" height="1.4" fill="#111"/>
<rect x="219.19" y="314.08" width="1.4" height="1.4" fill="#111"/>
<rect x="220.26" y="313.91" width="1.4" height="1.4" fill="#111"/>
<rect x="227.47" y="312.71" width="1.4" height="1.4" fill="#111"/>
<rect x="220.21" y="315.10" width="1.4" height="1.4" fill="#111"/>
<rect x="228.99" y="312.83" width="1.4" height="1.4" fill="#111"/>
<rect x="218.98" y="315.10" width="1.4" height="1.4" fill="#111"/>
<rect x="229.09" y="313.80" width="1.4" height="1.4" fill="#111"/>
<rect x="220.46" y="315.10" width="1.4" height="1.4" fill="#111"/>
<rect x="221.76" y="314.22" width="1.4" height="1.4" fill="#111"/>
<rect x="218.90" y="314.38" width="1.4" height="1.4" fill="#111"/>
<rect x="225.19" y="313.08" width="1.4" height="1.4" fill="#111"/>
<rect x="231.61" y="309.77" width="1.4" height="1.4" fill="#111"/>
<rect x="231.19" y="310.91" width="1.4" height="1.4" fill="#111"/>
<rect x="232.14" y="309.36" width="1.4" height="1.4" fill="#111"/>
<rect x="220.16" y="312.07" width="1.4" height="1.4" fill="#111"/>
<rect x="222.35" y="313.77" width="1.4" height="1.4" fill="#111"/>
<rect x="225.58" y="312.50" width="1.4" height="1.4" fill="#111"/>
<rect x="219.93" y="314.69" width="1.4" height="1.4" fill="#111"/>
<rect x="227.71" y="313.45" width="1.4" height="1.4" fill="#111"/>
<rect x="225.70" y="312.92" width="1.4" height="1.4" fill="#111"/>
<rect x="228.74" y="311.78" width="1.4" height="1.4" fill="#111"/>
<rect x="226.08" y="311.45" width="1.4" height="1.4" fill="#111"/>
<rect x="221.87" y="313.73" width="1.4" height="1.4" fill="#111"/>
<rect x="219.00" y="315.10" width="1.4" height="1.4" fill="#111"/>
<rect x="219.75" y="315.10" width="1.4" height="1.4" fill="#111"/>
<rect x="226.10" y="313.17" width="1.4" height="1.4" fill="#111"/>
<rect x="232.91" y="310.01" width="1.4" height="1.4" fill="#111"/>
<rect x="227.07" y="311.40" width="1.4" height="1.4" fill="#111"/>
<rect x="221.38" y="315.10" width="1.4" height="1.4" fill="#111"/>
<rect x="227.93" y="311.57" width="1.4" height="1.4" fill="#111"/>
<rect x="224.95" y="312.24" width="1.4" height="1.4" fill="#111"/>
<rect x="222.14" y="313.89" width="1.4" height="1.4" fill="#111"/>
<rect x="224.86" y="310.50" width="1.4" height="1.4" fill="#111"/>
<rect x="227.89" y="309.66" width="1.4" height="1.4" fill="#111"/>
<rect x="231.06" y="311.22" width="1.4" height="1.4" fill="#111"/>
<rect x="232.39" y="309.36" width="1.4" height="1.4" fill="#111"/>
<rect x="230.29" y="309.98" width="1.4" height="1.4" fill="#111"/>
<rect x="225.39" y="313.02" width="1.4" height="1.4" fill="#111"/>
<rect x="227.33" y="312.93" width="1.4" height="1.4" fill="#111"/>
<rect x="234.83" y="308.25" width="1.4" height="1.4" fill="#111"/>
<rect x="222.53" y="312.23" width="1.4" height="1.4" fill="#111"/>
<rect x="223.62" y="312.91" width="1.4" height="1.4" fill="#111"/>
<rect x="229.98" y="311.51" width="1.4" height="1.4" fill="#111"/>
<rect x="224.20" y="314.57" width="1.4" height="1.4" fill="#111"/>
<rect x="222.56" y="311.45" width="1.4" height="1.4" fill="#111"/>
<rect x="221.85" y="314.24" width="1.4" height="1.4" fill="#111"/>
<rect x="227.49" y="312.36" width="1.4" height="1.4" fill="#111"/>
<rect x="231.19" y="309.16" width="1.4" height="1.4" fill="#111"/>
<rect x="230.79" y="311.50" width="1.4" height="1.4" fill="#111"/>
<rect x="218.90" y="315.10" width="1.4" height="1.4" fill="#111"/>
<rect x="232.67" y="309.33" width="1.4" height="1.4" fill="#111"/>
<rect x="225.43" y="312.90" width="1.4" height="1.4" fill="#111"/>
<rect x="225.25" y="311.28" width="1.4" height="1.4" fill="#111"/>
<rect x="228.68" y="311.29" width="1.4" height="1.4" fill="#111"/>
<rect x="219.36" y="314.76" width="1.4" height="1.4" fill="#111"/>
<rect x="219.35" y="315.07" width="1.4" height="1.4" fill="#111"/>
<rect x="223.44" y="314.71" width="1.4" height="1.4" fill="#111"/>
<rect x="233.03" y="309.57" width="1.4" height="1.4" fill="#111"/>
<rect x="219.39" y="314.66" width="1.4" height="1.4" fill="#111"/>
<rect x="227.09" y="311.19" width="1.4" height="1.4" fill="#111"/>
<rect x="229.99" y="311.02" width="1.4" height="1.4" fill="#111"/>
<rect x="225.47" y="313.47" width="1.4" height="1.4" fill="#111"/>
<rect x="221.00" y="314.49" width="1.4" height="1.4" fill="#111"/>
<rect x="225.11" y="312.57" width="1.4" height="1.4" fill="#111"/>
<rect x="227.78" y="309.57" width="1.4" height="1.4" fill="#111"/>
<rect x="227.78" y="312.81" width="1.4" height="1.4" fill="#111"/>
<rect x="221.34" y="314.55" width="1.4" height="1.4" fill="#111"/>
<rect x="228.32" y="312.24" width="1.4" height="1.4" fill="#111"/>
<rect x="221.69" y="312.62" width="1.4" height="1.4" fill="#111"/>
<rect x="226.22" y="311.20" width="1.4" height="1.4" fill="#111"/>
<rect x="229.81" y="310.72" width="1.4" height="1.4" fill="#111"/>
<rect x="232.25" y="309.34" width="1.4" height="1.4" fill="#111"/>
<rect x="222.04" y="311.63" width="1.4" height="1.4" fill="#111"/>
<rect x="220.63" y="312.74" width="1.4" height="1.4" fill="#111"/>
<rect x="230.60" y="310.53" width="1.4" height="1.4" fill="#111"/>
<rect x="227.27" y="313.49" width="1.4" height="1.4" fill="#111"/>
<rect x="228.98" y="309.52" width="1.4" height="1.4" fill="#111"/>
<rect x="222.82" y="312.70" width="1.4" height="1.4" fill="#111"/>
<rect x="231.58" y="309.08" width="1.4" height="1.4" fill="#111"/>
<rect x="223.43" y="312.83" width="1.4" height="1.4" fill="#111"/>
<rect x="223.06" y="314.28" width="1.4" height="1.4" fill="#111"/>
<rect x="225.23" y="311.47" width="1.4" height="1.4" fill="#111"/>
<rect x="219.30" y="314.53" width="1.4" height="1.4" fill="#111"/>
<rect x="230.04" y="311.69" width="1.4" height="1.4" fill="#111"/>
<rect x="229.74" y="311.42" width="1.4" height="1.4" fill="#111"/>
<rect x="224.24" y="310.93" width="1.4" height="1.4" fill="#111"/>
<rect x="228.61" y="311.31" width="1.4" height="1.4" fill="#111"/>
<rect x="285.45000000000005" y="279.85" width="1.3" height="1.3" fill="#111"/>
<rect x="267.65000000000003" y="289.65000000000003" width="1.3" height="1.3" fill="#111"/>
<rect x="256.45000000000005" y="295.85" width="1.3" height="1.3" fill="#111"/>
<rect x="262.25" y="295.25" width="1.3" height="1.3" fill="#111"/>
<rect x="265.75" y="295.85" width="1.3" height="1.3" fill="#111"/>
<rect x="269.25" y="296.25" width="1.3" height="1.3" fill="#111"/>
<rect x="258.05" y="299.15000000000003" width="1.3" height="1.3" fill="#111"/>
<rect x="260.95000000000005" y="298.75" width="1.3" height="1.3" fill="#111"/>
<rect x="263.85" y="302.25" width="1.3" height="1.3" fill="#111"/>
<rect x="253.54999999999998" y="306.05" width="1.3" height="1.3" fill="#111"/>
<rect x="237.65" y="302.15000000000003" width="1.3" height="1.3" fill="#111"/>
<rect x="241.75" y="303.45000000000005" width="1.3" height="1.3" fill="#111"/>
<rect x="245.35" y="301.25" width="1.3" height="1.3" fill="#111"/>
<rect x="244.85" y="303.95000000000005" width="1.3" height="1.3" fill="#111"/>
<rect x="246.65" y="298.55" width="1.3" height="1.3" fill="#111"/>
<rect x="237.25" y="307.95000000000005" width="1.3" height="1.3" fill="#111"/>
<rect x="238.95" y="307.95000000000005" width="1.3" height="1.3" fill="#111"/>
<rect x="242.15" y="307.05" width="1.3" height="1.3" fill="#111"/>
<rect x="240.35" y="311.15000000000003" width="1.3" height="1.3" fill="#111"/>
<rect x="235.85" y="314.75" width="1.3" height="1.3" fill="#111"/>
<rect x="235.85" y="313.55" width="1.3" height="1.3" fill="#111"/>
<rect x="230.35" y="306.65000000000003" width="1.3" height="1.3" fill="#111"/>
<rect x="231.54999999999998" y="306.35" width="1.3" height="1.3" fill="#111"/>
<rect x="229.85" y="307.55" width="1.3" height="1.3" fill="#111"/>
<text x="357.2" y="263.0" font-size="4.5" text-anchor="middle" font-weight="bold" fill="#111" stroke="#111" stroke-width="0.18">MIXCR: Correlation of TCRA and TCRB</text>
<line x1="321.8" y1="270" x2="321.8" y2="316.2" stroke="#666" stroke-width="0.9"/>
<line x1="321.8" y1="316.2" x2="395" y2="316.2" stroke="#666" stroke-width="0.9"/>
<line x1="320.2" y1="270" x2="321.8" y2="270" stroke="#555" stroke-width="0.6"/>
<text x="319.7" y="271.0" font-size="3.1" text-anchor="end" font-weight="bold" fill="#333" stroke="#333" stroke-width="0.434">150</text>
<line x1="320.2" y1="285.3" x2="321.8" y2="285.3" stroke="#555" stroke-width="0.6"/>
<text x="319.7" y="286.3" font-size="3.1" text-anchor="end" font-weight="bold" fill="#333" stroke="#333" stroke-width="0.434">100</text>
<line x1="320.2" y1="300.9" x2="321.8" y2="300.9" stroke="#555" stroke-width="0.6"/>
<text x="319.7" y="301.9" font-size="3.1" text-anchor="end" font-weight="bold" fill="#333" stroke="#333" stroke-width="0.434">50</text>
<line x1="320.2" y1="316.2" x2="321.8" y2="316.2" stroke="#555" stroke-width="0.6"/>
<text x="319.7" y="317.2" font-size="3.1" text-anchor="end" font-weight="bold" fill="#333" stroke="#333" stroke-width="0.434">0</text>
<line x1="321.7" y1="316.2" x2="321.7" y2="317.8" stroke="#555" stroke-width="0.6"/>
<text x="321.7" y="321.5" font-size="3.1" text-anchor="middle" font-weight="bold" fill="#333" stroke="#333" stroke-width="0.434">0</text>
<line x1="339.6" y1="316.2" x2="339.6" y2="317.8" stroke="#555" stroke-width="0.6"/>
<text x="339.6" y="321.5" font-size="3.1" text-anchor="middle" font-weight="bold" fill="#333" stroke="#333" stroke-width="0.434">20</text>
<line x1="357.4" y1="316.2" x2="357.4" y2="317.8" stroke="#555" stroke-width="0.6"/>
<text x="357.4" y="321.5" font-size="3.1" text-anchor="middle" font-weight="bold" fill="#333" stroke="#333" stroke-width="0.434">40</text>
<line x1="375.3" y1="316.2" x2="375.3" y2="317.8" stroke="#555" stroke-width="0.6"/>
<text x="375.3" y="321.5" font-size="3.1" text-anchor="middle" font-weight="bold" fill="#333" stroke="#333" stroke-width="0.434">60</text>
<line x1="393.2" y1="316.2" x2="393.2" y2="317.8" stroke="#555" stroke-width="0.6"/>
<text x="393.2" y="321.5" font-size="3.1" text-anchor="middle" font-weight="bold" fill="#333" stroke="#333" stroke-width="0.434">80</text>
<text x="357.3" y="327.8" font-size="4.2" text-anchor="middle" font-weight="bold" fill="#1a1a1a" stroke="#1a1a1a" stroke-width="0.2">TCRB</text>
<text x="311.3" y="293.3" font-size="4.0" text-anchor="middle" font-weight="bold" fill="#1a1a1a" transform="rotate(-90 311.3 293.3)" stroke="#1a1a1a" stroke-width="0.2">TCRA</text>
<rect x="331.57" y="310.76" width="1.4" height="1.4" fill="#111"/>
<rect x="325.01" y="314.90" width="1.4" height="1.4" fill="#111"/>
<rect x="323.75" y="311.77" width="1.4" height="1.4" fill="#111"/>
<rect x="325.39" y="314.09" width="1.4" height="1.4" fill="#111"/>
<rect x="330.11" y="310.27" width="1.4" height="1.4" fill="#111"/>
<rect x="331.21" y="310.49" width="1.4" height="1.4" fill="#111"/>
<rect x="326.71" y="314.46" width="1.4" height="1.4" fill="#111"/>
<rect x="325.13" y="312.70" width="1.4" height="1.4" fill="#111"/>
<rect x="329.26" y="309.87" width="1.4" height="1.4" fill="#111"/>
<rect x="326.95" y="310.49" width="1.4" height="1.4" fill="#111"/>
<rect x="329.19" y="312.70" width="1.4" height="1.4" fill="#111"/>
<rect x="328.14" y="312.38" width="1.4" height="1.4" fill="#111"/>
<rect x="322.76" y="314.06" width="1.4" height="1.4" fill="#111"/>
<rect x="326.19" y="310.12" width="1.4" height="1.4" fill="#111"/>
<rect x="324.76" y="314.02" width="1.4" height="1.4" fill="#111"/>
<rect x="327.32" y="311.94" width="1.4" height="1.4" fill="#111"/>
<rect x="329.45" y="311.50" width="1.4" height="1.4" fill="#111"/>
<rect x="322.78" y="312.76" width="1.4" height="1.4" fill="#111"/>
<rect x="323.63" y="313.09" width="1.4" height="1.4" fill="#111"/>
<rect x="329.20" y="312.99" width="1.4" height="1.4" fill="#111"/>
<rect x="324.10" y="314.90" width="1.4" height="1.4" fill="#111"/>
<rect x="323.66" y="314.41" width="1.4" height="1.4" fill="#111"/>
<rect x="326.26" y="313.71" width="1.4" height="1.4" fill="#111"/>
<rect x="325.45" y="310.75" width="1.4" height="1.4" fill="#111"/>
<rect x="326.89" y="308.83" width="1.4" height="1.4" fill="#111"/>
<rect x="323.18" y="311.13" width="1.4" height="1.4" fill="#111"/>
<rect x="329.41" y="311.78" width="1.4" height="1.4" fill="#111"/>
<rect x="331.38" y="314.90" width="1.4" height="1.4" fill="#111"/>
<rect x="330.56" y="311.50" width="1.4" height="1.4" fill="#111"/>
<rect x="327.74" y="312.40" width="1.4" height="1.4" fill="#111"/>
<rect x="326.57" y="312.33" width="1.4" height="1.4" fill="#111"/>
<rect x="322.00" y="314.90" width="1.4" height="1.4" fill="#111"/>
<rect x="323.25" y="314.90" width="1.4" height="1.4" fill="#111"/>
<rect x="330.86" y="310.29" width="1.4" height="1.4" fill="#111"/>
<rect x="325.55" y="311.03" width="1.4" height="1.4" fill="#111"/>
<rect x="327.54" y="312.50" width="1.4" height="1.4" fill="#111"/>
<rect x="324.71" y="314.84" width="1.4" height="1.4" fill="#111"/>
<rect x="324.72" y="312.50" width="1.4" height="1.4" fill="#111"/>
<rect x="323.96" y="314.90" width="1.4" height="1.4" fill="#111"/>
<rect x="331.81" y="309.56" width="1.4" height="1.4" fill="#111"/>
<rect x="324.30" y="313.91" width="1.4" height="1.4" fill="#111"/>
<rect x="327.40" y="313.03" width="1.4" height="1.4" fill="#111"/>
<rect x="323.58" y="313.80" width="1.4" height="1.4" fill="#111"/>
<rect x="322.00" y="311.55" width="1.4" height="1.4" fill="#111"/>
<rect x="322.00" y="314.90" width="1.4" height="1.4" fill="#111"/>
<rect x="324.90" y="314.30" width="1.4" height="1.4" fill="#111"/>
<rect x="328.89" y="313.21" width="1.4" height="1.4" fill="#111"/>
<rect x="327.79" y="308.15" width="1.4" height="1.4" fill="#111"/>
<rect x="324.91" y="313.48" width="1.4" height="1.4" fill="#111"/>
<rect x="328.32" y="312.61" width="1.4" height="1.4" fill="#111"/>
<rect x="325.75" y="312.56" width="1.4" height="1.4" fill="#111"/>
<rect x="329.03" y="309.86" width="1.4" height="1.4" fill="#111"/>
<rect x="331.68" y="308.86" width="1.4" height="1.4" fill="#111"/>
<rect x="328.42" y="309.80" width="1.4" height="1.4" fill="#111"/>
<rect x="329.05" y="312.33" width="1.4" height="1.4" fill="#111"/>
<rect x="326.62" y="313.20" width="1.4" height="1.4" fill="#111"/>
<rect x="325.97" y="311.39" width="1.4" height="1.4" fill="#111"/>
<rect x="329.80" y="308.95" width="1.4" height="1.4" fill="#111"/>
<rect x="325.23" y="311.25" width="1.4" height="1.4" fill="#111"/>
<rect x="326.74" y="313.46" width="1.4" height="1.4" fill="#111"/>
<rect x="327.82" y="307.37" width="1.4" height="1.4" fill="#111"/>
<rect x="322.00" y="312.75" width="1.4" height="1.4" fill="#111"/>
<rect x="323.08" y="314.27" width="1.4" height="1.4" fill="#111"/>
<rect x="322.63" y="314.67" width="1.4" height="1.4" fill="#111"/>
<rect x="325.14" y="312.86" width="1.4" height="1.4" fill="#111"/>
<rect x="327.50" y="312.49" width="1.4" height="1.4" fill="#111"/>
<rect x="329.35" y="307.61" width="1.4" height="1.4" fill="#111"/>
<rect x="322.00" y="312.87" width="1.4" height="1.4" fill="#111"/>
<rect x="323.42" y="314.07" width="1.4" height="1.4" fill="#111"/>
<rect x="326.06" y="314.72" width="1.4" height="1.4" fill="#111"/>
<rect x="330.10" y="313.75" width="1.4" height="1.4" fill="#111"/>
<rect x="322.57" y="312.96" width="1.4" height="1.4" fill="#111"/>
<rect x="323.74" y="314.90" width="1.4" height="1.4" fill="#111"/>
<rect x="325.46" y="314.90" width="1.4" height="1.4" fill="#111"/>
<rect x="324.95" y="313.94" width="1.4" height="1.4" fill="#111"/>
<rect x="324.04" y="314.90" width="1.4" height="1.4" fill="#111"/>
<rect x="326.58" y="311.86" width="1.4" height="1.4" fill="#111"/>
<rect x="326.41" y="314.19" width="1.4" height="1.4" fill="#111"/>
<rect x="324.04" y="313.48" width="1.4" height="1.4" fill="#111"/>
<rect x="326.38" y="312.86" width="1.4" height="1.4" fill="#111"/>
<rect x="327.99" y="311.85" width="1.4" height="1.4" fill="#111"/>
<rect x="328.04" y="312.71" width="1.4" height="1.4" fill="#111"/>
<rect x="328.10" y="313.89" width="1.4" height="1.4" fill="#111"/>
<rect x="325.15" y="313.66" width="1.4" height="1.4" fill="#111"/>
<rect x="326.90" y="314.03" width="1.4" height="1.4" fill="#111"/>
<rect x="325.91" y="312.38" width="1.4" height="1.4" fill="#111"/>
<rect x="323.78" y="313.87" width="1.4" height="1.4" fill="#111"/>
<rect x="329.65" y="312.74" width="1.4" height="1.4" fill="#111"/>
<rect x="327.93" y="312.42" width="1.4" height="1.4" fill="#111"/>
<rect x="330.32" y="308.39" width="1.4" height="1.4" fill="#111"/>
<rect x="323.88" y="314.90" width="1.4" height="1.4" fill="#111"/>
<rect x="324.13" y="311.38" width="1.4" height="1.4" fill="#111"/>
<rect x="328.54" y="312.64" width="1.4" height="1.4" fill="#111"/>
<rect x="333.85" y="308.29" width="1.4" height="1.4" fill="#111"/>
<rect x="323.73" y="314.90" width="1.4" height="1.4" fill="#111"/>
<rect x="333.60" y="307.55" width="1.4" height="1.4" fill="#111"/>
<rect x="336.54" y="307.56" width="1.4" height="1.4" fill="#111"/>
<rect x="336.11" y="305.74" width="1.4" height="1.4" fill="#111"/>
<rect x="332.25" y="308.51" width="1.4" height="1.4" fill="#111"/>
<rect x="332.71" y="305.70" width="1.4" height="1.4" fill="#111"/>
<rect x="330.48" y="312.18" width="1.4" height="1.4" fill="#111"/>
<rect x="337.40" y="305.71" width="1.4" height="1.4" fill="#111"/>
<rect x="333.95" y="310.77" width="1.4" height="1.4" fill="#111"/>
<rect x="330.64" y="304.69" width="1.4" height="1.4" fill="#111"/>
<rect x="330.14" y="307.94" width="1.4" height="1.4" fill="#111"/>
<rect x="340.74" y="305.45" width="1.4" height="1.4" fill="#111"/>
<rect x="329.28" y="309.74" width="1.4" height="1.4" fill="#111"/>
<rect x="327.04" y="309.58" width="1.4" height="1.4" fill="#111"/>
<rect x="337.48" y="308.82" width="1.4" height="1.4" fill="#111"/>
<rect x="329.02" y="312.46" width="1.4" height="1.4" fill="#111"/>
<rect x="327.81" y="312.54" width="1.4" height="1.4" fill="#111"/>
<rect x="338.23" y="307.10" width="1.4" height="1.4" fill="#111"/>
<rect x="332.81" y="307.06" width="1.4" height="1.4" fill="#111"/>
<rect x="328.69" y="308.15" width="1.4" height="1.4" fill="#111"/>
<rect x="345.08" y="303.61" width="1.4" height="1.4" fill="#111"/>
<rect x="334.73" y="306.74" width="1.4" height="1.4" fill="#111"/>
<rect x="329.55" y="310.80" width="1.4" height="1.4" fill="#111"/>
<rect x="341.63" y="306.41" width="1.4" height="1.4" fill="#111"/>
<rect x="332.17" y="309.56" width="1.4" height="1.4" fill="#111"/>
<rect x="334.16" y="310.10" width="1.4" height="1.4" fill="#111"/>
<rect x="337.29" y="304.90" width="1.4" height="1.4" fill="#111"/>
<rect x="337.43" y="309.41" width="1.4" height="1.4" fill="#111"/>
<rect x="341.33" y="305.39" width="1.4" height="1.4" fill="#111"/>
<rect x="333.68" y="306.92" width="1.4" height="1.4" fill="#111"/>
<rect x="341.19" y="302.31" width="1.4" height="1.4" fill="#111"/>
<rect x="325.80" y="309.62" width="1.4" height="1.4" fill="#111"/>
<rect x="330.78" y="311.46" width="1.4" height="1.4" fill="#111"/>
<rect x="343.52" y="306.04" width="1.4" height="1.4" fill="#111"/>
<rect x="329.54" y="307.69" width="1.4" height="1.4" fill="#111"/>
<rect x="331.70" y="311.71" width="1.4" height="1.4" fill="#111"/>
<rect x="335.78" y="305.91" width="1.4" height="1.4" fill="#111"/>
<rect x="334.90" y="308.16" width="1.4" height="1.4" fill="#111"/>
<rect x="332.87" y="307.03" width="1.4" height="1.4" fill="#111"/>
<rect x="339.96" y="305.41" width="1.4" height="1.4" fill="#111"/>
<rect x="339.05" y="302.88" width="1.4" height="1.4" fill="#111"/>
<rect x="382.05" y="273.55" width="1.3" height="1.3" fill="#111"/>
<rect x="377.85" y="285.15000000000003" width="1.3" height="1.3" fill="#111"/>
<rect x="364.45000000000005" y="286.05" width="1.3" height="1.3" fill="#111"/>
<rect x="364.85" y="287.85" width="1.3" height="1.3" fill="#111"/>
<rect x="365.35" y="290.45000000000005" width="1.3" height="1.3" fill="#111"/>
<rect x="371.05" y="291.95000000000005" width="1.3" height="1.3" fill="#111"/>
<rect x="353.25" y="293.55" width="1.3" height="1.3" fill="#111"/>
<rect x="359.45000000000005" y="296.15000000000003" width="1.3" height="1.3" fill="#111"/>
<rect x="363.05" y="294.05" width="1.3" height="1.3" fill="#111"/>
<rect x="347.95000000000005" y="298.55" width="1.3" height="1.3" fill="#111"/>
<rect x="358.25" y="302.05" width="1.3" height="1.3" fill="#111"/>
<rect x="362.15000000000003" y="299.35" width="1.3" height="1.3" fill="#111"/>
<rect x="344.35" y="302.05" width="1.3" height="1.3" fill="#111"/>
<rect x="344.35" y="310.05" width="1.3" height="1.3" fill="#111"/>
<rect x="329.05" y="304.35" width="1.3" height="1.3" fill="#111"/>
<rect x="328.65000000000003" y="307.15000000000003" width="1.3" height="1.3" fill="#111"/>
<rect x="330.85" y="308.45000000000005" width="1.3" height="1.3" fill="#111"/>
<rect x="332.25" y="309.35" width="1.3" height="1.3" fill="#111"/>
<rect x="334.05" y="306.25" width="1.3" height="1.3" fill="#111"/>
<rect x="335.35" y="308.45000000000005" width="1.3" height="1.3" fill="#111"/>
<rect x="336.75" y="305.75" width="1.3" height="1.3" fill="#111"/>
<rect x="338.95000000000005" y="306.25" width="1.3" height="1.3" fill="#111"/>
<rect x="340.75" y="303.95000000000005" width="1.3" height="1.3" fill="#111"/>
<rect x="339.85" y="300.85" width="1.3" height="1.3" fill="#111"/>
<rect x="343.95000000000005" y="302.15000000000003" width="1.3" height="1.3" fill="#111"/>
<rect x="344.35" y="298.15000000000003" width="1.3" height="1.3" fill="#111"/>
<rect x="343.95000000000005" y="310.25" width="1.3" height="1.3" fill="#111"/>
<rect x="339.85" y="313.45000000000005" width="1.3" height="1.3" fill="#111"/>
<rect x="332.65000000000003" y="312.95000000000005" width="1.3" height="1.3" fill="#111"/>
<rect x="352.45000000000005" y="293.65000000000003" width="1.3" height="1.3" fill="#111"/>
<rect x="336.25" y="309.35" width="1.3" height="1.3" fill="#111"/>
<rect x="333.15000000000003" y="310.75" width="1.3" height="1.3" fill="#111"/>
<rect x="329.95000000000005" y="310.25" width="1.3" height="1.3" fill="#111"/>
<rect x="328.15000000000003" y="312.05" width="1.3" height="1.3" fill="#111"/>
<rect x="334.85" y="307.35" width="1.3" height="1.3" fill="#111"/>
<rect x="337.85" y="306.85" width="1.3" height="1.3" fill="#111"/>
<text x="-0.2" y="6.6" font-size="7.0" text-anchor="start" font-weight="bold" fill="#111" stroke="#111" stroke-width="0.15">A</text>
<text x="98" y="6.4" font-size="7.0" text-anchor="start" font-weight="bold" fill="#111" stroke="#111" stroke-width="0.15">B</text>
<text x="193.6" y="6.7" font-size="7.0" text-anchor="start" font-weight="bold" fill="#111" stroke="#111" stroke-width="0.15">C</text>
<text x="295.9" y="6.3" font-size="7.0" text-anchor="start" font-weight="bold" fill="#111" stroke="#111" stroke-width="0.15">D</text>
<text x="1.2" y="77" font-size="7.0" text-anchor="start" font-weight="bold" fill="#111" stroke="#111" stroke-width="0.15">E</text>
<text x="100.8" y="77" font-size="7.0" text-anchor="start" font-weight="bold" fill="#111" stroke="#111" stroke-width="0.15">F</text>
<text x="194.5" y="77" font-size="7.0" text-anchor="start" font-weight="bold" fill="#111" stroke="#111" stroke-width="0.15">G</text>
<text x="296" y="77" font-size="7.0" text-anchor="start" font-weight="bold" fill="#111" stroke="#111" stroke-width="0.15">H</text>
<text x="2.5" y="171" font-size="7.0" text-anchor="start" font-weight="bold" fill="#111" stroke="#111" stroke-width="0.15">I</text>
<text x="112.5" y="171.2" font-size="7.0" text-anchor="start" font-weight="bold" fill="#111" stroke="#111" stroke-width="0.15">J</text>
<text x="199.5" y="171" font-size="7.0" text-anchor="start" font-weight="bold" fill="#111" stroke="#111" stroke-width="0.15">K</text>
<text x="303.8" y="171" font-size="7.0" text-anchor="start" font-weight="bold" fill="#111" stroke="#111" stroke-width="0.15">L</text>
<text x="-0.6" y="258" font-size="7.0" text-anchor="start" font-weight="bold" fill="#111" stroke="#111" stroke-width="0.15">M</text>
<text x="112.7" y="258.2" font-size="7.0" text-anchor="start" font-weight="bold" fill="#111" stroke="#111" stroke-width="0.15">N</text>
<text x="199.5" y="257.8" font-size="7.0" text-anchor="start" font-weight="bold" fill="#111" stroke="#111" stroke-width="0.15">O</text>
<text x="303.5" y="257.8" font-size="7.0" text-anchor="start" font-weight="bold" fill="#111" stroke="#111" stroke-width="0.15">P</text>
</svg></body></html>
